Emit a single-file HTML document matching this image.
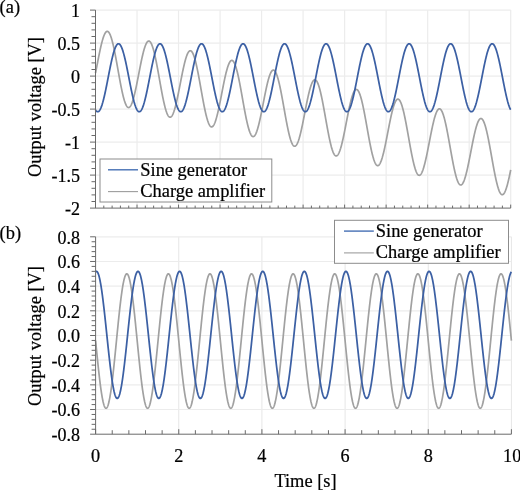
<!DOCTYPE html>
<html><head><meta charset="utf-8"><title>Output voltage</title>
<style>html,body{margin:0;padding:0;background:#fff}svg{display:block;filter:blur(0.4px)}text{stroke:#000;stroke-width:0.22px}</style></head>
<body>
<svg width="520" height="490" viewBox="0 0 520 490">
<rect width="520" height="490" fill="#fff"/>
<line x1="137.02" y1="10.10" x2="137.02" y2="208.10" stroke="#ececec" stroke-width="1.2"/>
<line x1="178.54" y1="10.10" x2="178.54" y2="208.10" stroke="#ececec" stroke-width="1.2"/>
<line x1="220.06" y1="10.10" x2="220.06" y2="208.10" stroke="#ececec" stroke-width="1.2"/>
<line x1="261.58" y1="10.10" x2="261.58" y2="208.10" stroke="#ececec" stroke-width="1.2"/>
<line x1="303.10" y1="10.10" x2="303.10" y2="208.10" stroke="#ececec" stroke-width="1.2"/>
<line x1="344.62" y1="10.10" x2="344.62" y2="208.10" stroke="#ececec" stroke-width="1.2"/>
<line x1="386.14" y1="10.10" x2="386.14" y2="208.10" stroke="#ececec" stroke-width="1.2"/>
<line x1="427.66" y1="10.10" x2="427.66" y2="208.10" stroke="#ececec" stroke-width="1.2"/>
<line x1="469.18" y1="10.10" x2="469.18" y2="208.10" stroke="#ececec" stroke-width="1.2"/>
<line x1="510.70" y1="10.10" x2="510.70" y2="208.10" stroke="#ececec" stroke-width="1.2"/>
<line x1="95.50" y1="10.10" x2="510.70" y2="10.10" stroke="#ececec" stroke-width="1.2"/>
<line x1="95.50" y1="43.10" x2="510.70" y2="43.10" stroke="#ececec" stroke-width="1.2"/>
<line x1="95.50" y1="76.10" x2="510.70" y2="76.10" stroke="#ececec" stroke-width="1.2"/>
<line x1="95.50" y1="109.10" x2="510.70" y2="109.10" stroke="#ececec" stroke-width="1.2"/>
<line x1="95.50" y1="142.10" x2="510.70" y2="142.10" stroke="#ececec" stroke-width="1.2"/>
<line x1="95.50" y1="175.10" x2="510.70" y2="175.10" stroke="#ececec" stroke-width="1.2"/>
<path d="M95.50,73.08 L95.71,72.04 L95.92,71.00 L96.12,69.94 L96.33,68.88 L96.54,67.82 L96.75,66.75 L96.95,65.68 L97.16,64.61 L97.37,63.54 L97.58,62.47 L97.78,61.40 L97.99,60.33 L98.20,59.27 L98.41,58.22 L98.61,57.17 L98.82,56.13 L99.03,55.10 L99.24,54.08 L99.44,53.07 L99.65,52.07 L99.86,51.08 L100.07,50.11 L100.27,49.15 L100.48,48.21 L100.69,47.29 L100.90,46.38 L101.11,45.49 L101.31,44.63 L101.52,43.78 L101.73,42.95 L101.94,42.15 L102.14,41.37 L102.35,40.62 L102.56,39.89 L102.77,39.18 L102.97,38.50 L103.18,37.85 L103.39,37.23 L103.60,36.63 L103.80,36.06 L104.01,35.53 L104.22,35.02 L104.43,34.55 L104.63,34.10 L104.84,33.69 L105.05,33.31 L105.26,32.96 L105.46,32.65 L105.67,32.37 L105.88,32.12 L106.09,31.91 L106.30,31.73 L106.50,31.58 L106.71,31.48 L106.92,31.40 L107.13,31.36 L107.33,31.36 L107.54,31.39 L107.75,31.45 L107.96,31.55 L108.16,31.69 L108.37,31.86 L108.58,32.07 L108.79,32.31 L108.99,32.59 L109.20,32.89 L109.41,33.24 L109.62,33.62 L109.82,34.03 L110.03,34.47 L110.24,34.95 L110.45,35.46 L110.65,36.00 L110.86,36.57 L111.07,37.17 L111.28,37.81 L111.49,38.47 L111.69,39.16 L111.90,39.88 L112.11,40.63 L112.32,41.41 L112.52,42.21 L112.73,43.04 L112.94,43.89 L113.15,44.77 L113.35,45.67 L113.56,46.59 L113.77,47.53 L113.98,48.50 L114.18,49.48 L114.39,50.48 L114.60,51.50 L114.81,52.54 L115.01,53.60 L115.22,54.66 L115.43,55.75 L115.64,56.84 L115.84,57.95 L116.05,59.07 L116.26,60.20 L116.47,61.33 L116.68,62.48 L116.88,63.63 L117.09,64.79 L117.30,65.95 L117.51,67.11 L117.71,68.28 L117.92,69.45 L118.13,70.62 L118.34,71.78 L118.54,72.95 L118.75,74.11 L118.96,75.27 L119.17,76.42 L119.37,77.56 L119.58,78.70 L119.79,79.83 L120.00,80.95 L120.20,82.05 L120.41,83.15 L120.62,84.23 L120.83,85.30 L121.03,86.35 L121.24,87.39 L121.45,88.41 L121.66,89.42 L121.87,90.40 L122.07,91.37 L122.28,92.31 L122.49,93.23 L122.70,94.13 L122.90,95.01 L123.11,95.86 L123.32,96.69 L123.53,97.49 L123.73,98.26 L123.94,99.01 L124.15,99.73 L124.36,100.43 L124.56,101.09 L124.77,101.72 L124.98,102.33 L125.19,102.90 L125.39,103.44 L125.60,103.95 L125.81,104.43 L126.02,104.87 L126.22,105.28 L126.43,105.66 L126.64,106.00 L126.85,106.31 L127.06,106.59 L127.26,106.83 L127.47,107.03 L127.68,107.21 L127.89,107.34 L128.09,107.44 L128.30,107.51 L128.51,107.54 L128.72,107.54 L128.92,107.50 L129.13,107.42 L129.34,107.31 L129.55,107.17 L129.75,106.99 L129.96,106.78 L130.17,106.53 L130.38,106.25 L130.58,105.93 L130.79,105.59 L131.00,105.21 L131.21,104.79 L131.41,104.35 L131.62,103.88 L131.83,103.37 L132.04,102.83 L132.25,102.27 L132.45,101.67 L132.66,101.05 L132.87,100.40 L133.08,99.72 L133.28,99.01 L133.49,98.28 L133.70,97.52 L133.91,96.75 L134.11,95.94 L134.32,95.12 L134.53,94.27 L134.74,93.40 L134.94,92.51 L135.15,91.61 L135.36,90.68 L135.57,89.74 L135.77,88.79 L135.98,87.81 L136.19,86.83 L136.40,85.83 L136.60,84.82 L136.81,83.80 L137.02,82.77 L137.23,81.73 L137.44,80.68 L137.64,79.62 L137.85,78.56 L138.06,77.50 L138.27,76.43 L138.47,75.36 L138.68,74.29 L138.89,73.22 L139.10,72.15 L139.30,71.08 L139.51,70.02 L139.72,68.96 L139.93,67.90 L140.13,66.85 L140.34,65.81 L140.55,64.78 L140.76,63.76 L140.96,62.75 L141.17,61.75 L141.38,60.76 L141.59,59.79 L141.79,58.84 L142.00,57.89 L142.21,56.97 L142.42,56.06 L142.63,55.18 L142.83,54.31 L143.04,53.46 L143.25,52.64 L143.46,51.83 L143.66,51.05 L143.87,50.30 L144.08,49.57 L144.29,48.86 L144.49,48.18 L144.70,47.53 L144.91,46.91 L145.12,46.31 L145.32,45.75 L145.53,45.21 L145.74,44.70 L145.95,44.23 L146.15,43.78 L146.36,43.37 L146.57,42.99 L146.78,42.64 L146.98,42.33 L147.19,42.05 L147.40,41.80 L147.61,41.59 L147.82,41.41 L148.02,41.27 L148.23,41.16 L148.44,41.08 L148.65,41.04 L148.85,41.04 L149.06,41.07 L149.27,41.14 L149.48,41.24 L149.68,41.37 L149.89,41.54 L150.10,41.75 L150.31,41.99 L150.51,42.27 L150.72,42.58 L150.93,42.92 L151.14,43.30 L151.34,43.71 L151.55,44.15 L151.76,44.63 L151.97,45.14 L152.17,45.68 L152.38,46.25 L152.59,46.86 L152.80,47.49 L153.01,48.15 L153.21,48.84 L153.42,49.57 L153.63,50.31 L153.84,51.09 L154.04,51.89 L154.25,52.72 L154.46,53.57 L154.67,54.45 L154.87,55.35 L155.08,56.27 L155.29,57.21 L155.50,58.18 L155.70,59.16 L155.91,60.17 L156.12,61.19 L156.33,62.22 L156.53,63.28 L156.74,64.35 L156.95,65.43 L157.16,66.53 L157.36,67.63 L157.57,68.75 L157.78,69.88 L157.99,71.02 L158.20,72.16 L158.40,73.31 L158.61,74.47 L158.82,75.63 L159.03,76.80 L159.23,77.96 L159.44,79.13 L159.65,80.30 L159.86,81.47 L160.06,82.63 L160.27,83.79 L160.48,84.95 L160.69,86.10 L160.89,87.24 L161.10,88.38 L161.31,89.51 L161.52,90.63 L161.72,91.74 L161.93,92.83 L162.14,93.91 L162.35,94.98 L162.55,96.04 L162.76,97.07 L162.97,98.10 L163.18,99.10 L163.39,100.08 L163.59,101.05 L163.80,101.99 L164.01,102.91 L164.22,103.81 L164.42,104.69 L164.63,105.54 L164.84,106.37 L165.05,107.17 L165.25,107.95 L165.46,108.70 L165.67,109.42 L165.88,110.11 L166.08,110.77 L166.29,111.40 L166.50,112.01 L166.71,112.58 L166.91,113.12 L167.12,113.63 L167.33,114.11 L167.54,114.55 L167.74,114.96 L167.95,115.34 L168.16,115.68 L168.37,115.99 L168.58,116.27 L168.78,116.51 L168.99,116.72 L169.20,116.89 L169.41,117.02 L169.61,117.13 L169.82,117.19 L170.03,117.22 L170.24,117.22 L170.44,117.18 L170.65,117.10 L170.86,116.99 L171.07,116.85 L171.27,116.67 L171.48,116.46 L171.69,116.21 L171.90,115.93 L172.10,115.62 L172.31,115.27 L172.52,114.89 L172.73,114.48 L172.93,114.03 L173.14,113.56 L173.35,113.05 L173.56,112.51 L173.77,111.95 L173.97,111.35 L174.18,110.73 L174.39,110.08 L174.60,109.40 L174.80,108.69 L175.01,107.96 L175.22,107.21 L175.43,106.43 L175.63,105.62 L175.84,104.80 L176.05,103.95 L176.26,103.08 L176.46,102.20 L176.67,101.29 L176.88,100.37 L177.09,99.43 L177.29,98.47 L177.50,97.50 L177.71,96.51 L177.92,95.51 L178.12,94.50 L178.33,93.48 L178.54,92.45 L178.75,91.41 L178.96,90.36 L179.16,89.30 L179.37,88.24 L179.58,87.18 L179.79,86.11 L179.99,85.04 L180.20,83.97 L180.41,82.90 L180.62,81.83 L180.82,80.76 L181.03,79.70 L181.24,78.64 L181.45,77.58 L181.65,76.54 L181.86,75.50 L182.07,74.46 L182.28,73.44 L182.48,72.43 L182.69,71.43 L182.90,70.45 L183.11,69.47 L183.31,68.52 L183.52,67.58 L183.73,66.65 L183.94,65.75 L184.15,64.86 L184.35,63.99 L184.56,63.14 L184.77,62.32 L184.98,61.52 L185.18,60.74 L185.39,59.98 L185.60,59.25 L185.81,58.54 L186.01,57.87 L186.22,57.21 L186.43,56.59 L186.64,56.00 L186.84,55.43 L187.05,54.89 L187.26,54.39 L187.47,53.91 L187.67,53.47 L187.88,53.05 L188.09,52.67 L188.30,52.33 L188.50,52.01 L188.71,51.73 L188.92,51.48 L189.13,51.27 L189.34,51.09 L189.54,50.95 L189.75,50.84 L189.96,50.77 L190.17,50.73 L190.37,50.72 L190.58,50.75 L190.79,50.82 L191.00,50.92 L191.20,51.06 L191.41,51.23 L191.62,51.43 L191.83,51.67 L192.03,51.95 L192.24,52.26 L192.45,52.60 L192.66,52.98 L192.86,53.39 L193.07,53.84 L193.28,54.31 L193.49,54.82 L193.69,55.36 L193.90,55.94 L194.11,56.54 L194.32,57.17 L194.53,57.83 L194.73,58.53 L194.94,59.25 L195.15,60.00 L195.36,60.77 L195.56,61.57 L195.77,62.40 L195.98,63.25 L196.19,64.13 L196.39,65.03 L196.60,65.95 L196.81,66.90 L197.02,67.86 L197.22,68.84 L197.43,69.85 L197.64,70.87 L197.85,71.91 L198.05,72.96 L198.26,74.03 L198.47,75.11 L198.68,76.21 L198.88,77.32 L199.09,78.43 L199.30,79.56 L199.51,80.70 L199.72,81.84 L199.92,83.00 L200.13,84.15 L200.34,85.31 L200.55,86.48 L200.75,87.64 L200.96,88.81 L201.17,89.98 L201.38,91.15 L201.58,92.31 L201.79,93.47 L202.00,94.63 L202.21,95.78 L202.41,96.93 L202.62,98.06 L202.83,99.19 L203.04,100.31 L203.24,101.42 L203.45,102.51 L203.66,103.60 L203.87,104.67 L204.07,105.72 L204.28,106.76 L204.49,107.78 L204.70,108.78 L204.91,109.77 L205.11,110.73 L205.32,111.67 L205.53,112.60 L205.74,113.50 L205.94,114.37 L206.15,115.22 L206.36,116.05 L206.57,116.85 L206.77,117.63 L206.98,118.38 L207.19,119.10 L207.40,119.79 L207.60,120.45 L207.81,121.09 L208.02,121.69 L208.23,122.26 L208.43,122.80 L208.64,123.31 L208.85,123.79 L209.06,124.23 L209.26,124.64 L209.47,125.02 L209.68,125.37 L209.89,125.68 L210.10,125.95 L210.30,126.19 L210.51,126.40 L210.72,126.57 L210.93,126.71 L211.13,126.81 L211.34,126.87 L211.55,126.90 L211.76,126.90 L211.96,126.86 L212.17,126.79 L212.38,126.68 L212.59,126.53 L212.79,126.35 L213.00,126.14 L213.21,125.89 L213.42,125.61 L213.62,125.30 L213.83,124.95 L214.04,124.57 L214.25,124.16 L214.45,123.71 L214.66,123.24 L214.87,122.73 L215.08,122.20 L215.29,121.63 L215.49,121.03 L215.70,120.41 L215.91,119.76 L216.12,119.08 L216.32,118.38 L216.53,117.64 L216.74,116.89 L216.95,116.11 L217.15,115.31 L217.36,114.48 L217.57,113.63 L217.78,112.77 L217.98,111.88 L218.19,110.97 L218.40,110.05 L218.61,109.11 L218.81,108.15 L219.02,107.18 L219.23,106.19 L219.44,105.19 L219.64,104.18 L219.85,103.16 L220.06,102.13 L220.27,101.09 L220.48,100.04 L220.68,98.99 L220.89,97.93 L221.10,96.86 L221.31,95.79 L221.51,94.72 L221.72,93.65 L221.93,92.58 L222.14,91.51 L222.34,90.45 L222.55,89.38 L222.76,88.32 L222.97,87.27 L223.17,86.22 L223.38,85.18 L223.59,84.15 L223.80,83.12 L224.00,82.11 L224.21,81.11 L224.42,80.13 L224.63,79.16 L224.83,78.20 L225.04,77.26 L225.25,76.33 L225.46,75.43 L225.67,74.54 L225.87,73.67 L226.08,72.83 L226.29,72.00 L226.50,71.20 L226.70,70.42 L226.91,69.66 L227.12,68.93 L227.33,68.23 L227.53,67.55 L227.74,66.90 L227.95,66.27 L228.16,65.68 L228.36,65.11 L228.57,64.57 L228.78,64.07 L228.99,63.59 L229.19,63.15 L229.40,62.74 L229.61,62.36 L229.82,62.01 L230.02,61.69 L230.23,61.41 L230.44,61.17 L230.65,60.95 L230.86,60.78 L231.06,60.63 L231.27,60.52 L231.48,60.45 L231.69,60.41 L231.89,60.40 L232.10,60.43 L232.31,60.50 L232.52,60.60 L232.72,60.74 L232.93,60.91 L233.14,61.12 L233.35,61.36 L233.55,61.63 L233.76,61.94 L233.97,62.29 L234.18,62.66 L234.38,63.07 L234.59,63.52 L234.80,64.00 L235.01,64.50 L235.21,65.05 L235.42,65.62 L235.63,66.22 L235.84,66.85 L236.05,67.52 L236.25,68.21 L236.46,68.93 L236.67,69.68 L236.88,70.45 L237.08,71.26 L237.29,72.08 L237.50,72.94 L237.71,73.81 L237.91,74.71 L238.12,75.63 L238.33,76.58 L238.54,77.54 L238.74,78.53 L238.95,79.53 L239.16,80.55 L239.37,81.59 L239.57,82.64 L239.78,83.71 L239.99,84.79 L240.20,85.89 L240.40,87.00 L240.61,88.12 L240.82,89.24 L241.03,90.38 L241.24,91.53 L241.44,92.68 L241.65,93.83 L241.86,95.00 L242.07,96.16 L242.27,97.33 L242.48,98.49 L242.69,99.66 L242.90,100.83 L243.10,101.99 L243.31,103.16 L243.52,104.31 L243.73,105.46 L243.93,106.61 L244.14,107.75 L244.35,108.87 L244.56,109.99 L244.76,111.10 L244.97,112.20 L245.18,113.28 L245.39,114.35 L245.59,115.40 L245.80,116.44 L246.01,117.46 L246.22,118.46 L246.43,119.45 L246.63,120.41 L246.84,121.36 L247.05,122.28 L247.26,123.18 L247.46,124.05 L247.67,124.91 L247.88,125.73 L248.09,126.54 L248.29,127.31 L248.50,128.06 L248.71,128.78 L248.92,129.47 L249.12,130.14 L249.33,130.77 L249.54,131.37 L249.75,131.94 L249.95,132.49 L250.16,132.99 L250.37,133.47 L250.58,133.92 L250.78,134.33 L250.99,134.70 L251.20,135.05 L251.41,135.36 L251.62,135.63 L251.82,135.87 L252.03,136.08 L252.24,136.25 L252.45,136.39 L252.65,136.49 L252.86,136.56 L253.07,136.59 L253.28,136.58 L253.48,136.54 L253.69,136.47 L253.90,136.36 L254.11,136.21 L254.31,136.04 L254.52,135.82 L254.73,135.58 L254.94,135.30 L255.14,134.98 L255.35,134.63 L255.56,134.25 L255.77,133.84 L255.97,133.40 L256.18,132.92 L256.39,132.42 L256.60,131.88 L256.81,131.31 L257.01,130.72 L257.22,130.09 L257.43,129.44 L257.64,128.76 L257.84,128.06 L258.05,127.33 L258.26,126.57 L258.47,125.79 L258.67,124.99 L258.88,124.16 L259.09,123.32 L259.30,122.45 L259.50,121.56 L259.71,120.66 L259.92,119.73 L260.13,118.79 L260.33,117.83 L260.54,116.86 L260.75,115.88 L260.96,114.88 L261.16,113.87 L261.37,112.84 L261.58,111.81 L261.79,110.77 L262.00,109.72 L262.20,108.67 L262.41,107.61 L262.62,106.54 L262.83,105.48 L263.03,104.41 L263.24,103.34 L263.45,102.27 L263.66,101.20 L263.86,100.13 L264.07,99.06 L264.28,98.00 L264.49,96.95 L264.69,95.90 L264.90,94.86 L265.11,93.83 L265.32,92.81 L265.52,91.80 L265.73,90.80 L265.94,89.81 L266.15,88.84 L266.35,87.88 L266.56,86.94 L266.77,86.02 L266.98,85.11 L267.19,84.22 L267.39,83.36 L267.60,82.51 L267.81,81.68 L268.02,80.88 L268.22,80.10 L268.43,79.35 L268.64,78.61 L268.85,77.91 L269.05,77.23 L269.26,76.58 L269.47,75.96 L269.68,75.36 L269.88,74.79 L270.09,74.26 L270.30,73.75 L270.51,73.28 L270.71,72.83 L270.92,72.42 L271.13,72.04 L271.34,71.69 L271.54,71.38 L271.75,71.10 L271.96,70.85 L272.17,70.64 L272.38,70.46 L272.58,70.31 L272.79,70.20 L273.00,70.13 L273.21,70.09 L273.41,70.09 L273.62,70.12 L273.83,70.18 L274.04,70.28 L274.24,70.42 L274.45,70.59 L274.66,70.80 L274.87,71.04 L275.07,71.31 L275.28,71.62 L275.49,71.97 L275.70,72.35 L275.90,72.76 L276.11,73.20 L276.32,73.68 L276.53,74.19 L276.73,74.73 L276.94,75.30 L277.15,75.90 L277.36,76.54 L277.57,77.20 L277.77,77.89 L277.98,78.61 L278.19,79.36 L278.40,80.14 L278.60,80.94 L278.81,81.77 L279.02,82.62 L279.23,83.49 L279.43,84.39 L279.64,85.32 L279.85,86.26 L280.06,87.22 L280.26,88.21 L280.47,89.21 L280.68,90.23 L280.89,91.27 L281.09,92.32 L281.30,93.39 L281.51,94.48 L281.72,95.57 L281.92,96.68 L282.13,97.80 L282.34,98.93 L282.55,100.06 L282.76,101.21 L282.96,102.36 L283.17,103.52 L283.38,104.68 L283.59,105.84 L283.79,107.01 L284.00,108.18 L284.21,109.35 L284.42,110.51 L284.62,111.68 L284.83,112.84 L285.04,113.99 L285.25,115.15 L285.45,116.29 L285.66,117.43 L285.87,118.56 L286.08,119.67 L286.28,120.78 L286.49,121.88 L286.70,122.96 L286.91,124.03 L287.11,125.08 L287.32,126.12 L287.53,127.14 L287.74,128.15 L287.95,129.13 L288.15,130.09 L288.36,131.04 L288.57,131.96 L288.78,132.86 L288.98,133.74 L289.19,134.59 L289.40,135.42 L289.61,136.22 L289.81,136.99 L290.02,137.74 L290.23,138.46 L290.44,139.16 L290.64,139.82 L290.85,140.45 L291.06,141.05 L291.27,141.63 L291.47,142.17 L291.68,142.68 L291.89,143.15 L292.10,143.60 L292.30,144.01 L292.51,144.39 L292.72,144.73 L292.93,145.04 L293.14,145.32 L293.34,145.56 L293.55,145.76 L293.76,145.93 L293.97,146.07 L294.17,146.17 L294.38,146.24 L294.59,146.27 L294.80,146.26 L295.00,146.22 L295.21,146.15 L295.42,146.04 L295.63,145.90 L295.83,145.72 L296.04,145.51 L296.25,145.26 L296.46,144.98 L296.66,144.66 L296.87,144.32 L297.08,143.94 L297.29,143.52 L297.49,143.08 L297.70,142.60 L297.91,142.10 L298.12,141.56 L298.33,140.99 L298.53,140.40 L298.74,139.78 L298.95,139.12 L299.16,138.45 L299.36,137.74 L299.57,137.01 L299.78,136.25 L299.99,135.47 L300.19,134.67 L300.40,133.85 L300.61,133.00 L300.82,132.13 L301.02,131.24 L301.23,130.34 L301.44,129.41 L301.65,128.47 L301.85,127.52 L302.06,126.54 L302.27,125.56 L302.48,124.56 L302.68,123.55 L302.89,122.53 L303.10,121.49 L303.31,120.45 L303.52,119.41 L303.72,118.35 L303.93,117.29 L304.14,116.23 L304.35,115.16 L304.55,114.09 L304.76,113.02 L304.97,111.95 L305.18,110.88 L305.38,109.81 L305.59,108.75 L305.80,107.69 L306.01,106.63 L306.21,105.58 L306.42,104.54 L306.63,103.51 L306.84,102.49 L307.04,101.48 L307.25,100.48 L307.46,99.49 L307.67,98.52 L307.87,97.56 L308.08,96.62 L308.29,95.70 L308.50,94.79 L308.71,93.91 L308.91,93.04 L309.12,92.19 L309.33,91.37 L309.54,90.56 L309.74,89.78 L309.95,89.03 L310.16,88.30 L310.37,87.59 L310.57,86.91 L310.78,86.26 L310.99,85.64 L311.20,85.04 L311.40,84.48 L311.61,83.94 L311.82,83.43 L312.03,82.96 L312.23,82.51 L312.44,82.10 L312.65,81.72 L312.86,81.37 L313.06,81.06 L313.27,80.78 L313.48,80.53 L313.69,80.32 L313.90,80.14 L314.10,80.00 L314.31,79.89 L314.52,79.81 L314.73,79.77 L314.93,79.77 L315.14,79.80 L315.35,79.86 L315.56,79.97 L315.76,80.10 L315.97,80.27 L316.18,80.48 L316.39,80.72 L316.59,81.00 L316.80,81.31 L317.01,81.65 L317.22,82.03 L317.42,82.44 L317.63,82.88 L317.84,83.36 L318.05,83.87 L318.25,84.41 L318.46,84.98 L318.67,85.58 L318.88,86.22 L319.09,86.88 L319.29,87.57 L319.50,88.29 L319.71,89.04 L319.92,89.82 L320.12,90.62 L320.33,91.45 L320.54,92.30 L320.75,93.18 L320.95,94.08 L321.16,95.00 L321.37,95.94 L321.58,96.91 L321.78,97.89 L321.99,98.89 L322.20,99.92 L322.41,100.95 L322.61,102.01 L322.82,103.08 L323.03,104.16 L323.24,105.25 L323.44,106.36 L323.65,107.48 L323.86,108.61 L324.07,109.75 L324.28,110.89 L324.48,112.04 L324.69,113.20 L324.90,114.36 L325.11,115.52 L325.31,116.69 L325.52,117.86 L325.73,119.03 L325.94,120.19 L326.14,121.36 L326.35,122.52 L326.56,123.68 L326.77,124.83 L326.97,125.97 L327.18,127.11 L327.39,128.24 L327.60,129.36 L327.80,130.46 L328.01,131.56 L328.22,132.64 L328.43,133.71 L328.63,134.77 L328.84,135.80 L329.05,136.82 L329.26,137.83 L329.47,138.81 L329.67,139.78 L329.88,140.72 L330.09,141.64 L330.30,142.54 L330.50,143.42 L330.71,144.27 L330.92,145.10 L331.13,145.90 L331.33,146.68 L331.54,147.42 L331.75,148.15 L331.96,148.84 L332.16,149.50 L332.37,150.13 L332.58,150.74 L332.79,151.31 L332.99,151.85 L333.20,152.36 L333.41,152.84 L333.62,153.28 L333.82,153.69 L334.03,154.07 L334.24,154.41 L334.45,154.72 L334.66,155.00 L334.86,155.24 L335.07,155.45 L335.28,155.62 L335.49,155.75 L335.69,155.85 L335.90,155.92 L336.11,155.95 L336.32,155.95 L336.52,155.91 L336.73,155.83 L336.94,155.72 L337.15,155.58 L337.35,155.40 L337.56,155.19 L337.77,154.94 L337.98,154.66 L338.18,154.35 L338.39,154.00 L338.60,153.62 L338.81,153.21 L339.01,152.76 L339.22,152.29 L339.43,151.78 L339.64,151.24 L339.85,150.68 L340.05,150.08 L340.26,149.46 L340.47,148.81 L340.68,148.13 L340.88,147.42 L341.09,146.69 L341.30,145.94 L341.51,145.16 L341.71,144.35 L341.92,143.53 L342.13,142.68 L342.34,141.81 L342.54,140.93 L342.75,140.02 L342.96,139.10 L343.17,138.15 L343.37,137.20 L343.58,136.23 L343.79,135.24 L344.00,134.24 L344.20,133.23 L344.41,132.21 L344.62,131.18 L344.83,130.14 L345.04,129.09 L345.24,128.03 L345.45,126.97 L345.66,125.91 L345.87,124.84 L346.07,123.77 L346.28,122.70 L346.49,121.63 L346.70,120.56 L346.90,119.49 L347.11,118.43 L347.32,117.37 L347.53,116.31 L347.73,115.26 L347.94,114.22 L348.15,113.19 L348.36,112.17 L348.56,111.16 L348.77,110.16 L348.98,109.18 L349.19,108.20 L349.39,107.25 L349.60,106.31 L349.81,105.38 L350.02,104.48 L350.23,103.59 L350.43,102.72 L350.64,101.87 L350.85,101.05 L351.06,100.24 L351.26,99.47 L351.47,98.71 L351.68,97.98 L351.89,97.27 L352.09,96.59 L352.30,95.94 L352.51,95.32 L352.72,94.72 L352.92,94.16 L353.13,93.62 L353.34,93.11 L353.55,92.64 L353.75,92.20 L353.96,91.78 L354.17,91.40 L354.38,91.06 L354.58,90.74 L354.79,90.46 L355.00,90.21 L355.21,90.00 L355.42,89.82 L355.62,89.68 L355.83,89.57 L356.04,89.49 L356.25,89.45 L356.45,89.45 L356.66,89.48 L356.87,89.55 L357.08,89.65 L357.28,89.78 L357.49,89.96 L357.70,90.16 L357.91,90.40 L358.11,90.68 L358.32,90.99 L358.53,91.33 L358.74,91.71 L358.94,92.12 L359.15,92.56 L359.36,93.04 L359.57,93.55 L359.77,94.09 L359.98,94.66 L360.19,95.27 L360.40,95.90 L360.61,96.56 L360.81,97.26 L361.02,97.98 L361.23,98.72 L361.44,99.50 L361.64,100.30 L361.85,101.13 L362.06,101.98 L362.27,102.86 L362.47,103.76 L362.68,104.68 L362.89,105.62 L363.10,106.59 L363.30,107.57 L363.51,108.58 L363.72,109.60 L363.93,110.64 L364.13,111.69 L364.34,112.76 L364.55,113.84 L364.76,114.94 L364.96,116.04 L365.17,117.16 L365.38,118.29 L365.59,119.43 L365.80,120.57 L366.00,121.72 L366.21,122.88 L366.42,124.04 L366.63,125.21 L366.83,126.37 L367.04,127.54 L367.25,128.71 L367.46,129.88 L367.66,131.04 L367.87,132.20 L368.08,133.36 L368.29,134.51 L368.49,135.66 L368.70,136.79 L368.91,137.92 L369.12,139.04 L369.32,140.15 L369.53,141.24 L369.74,142.33 L369.95,143.39 L370.15,144.45 L370.36,145.49 L370.57,146.51 L370.78,147.51 L370.99,148.49 L371.19,149.46 L371.40,150.40 L371.61,151.32 L371.82,152.22 L372.02,153.10 L372.23,153.95 L372.44,154.78 L372.65,155.58 L372.85,156.36 L373.06,157.11 L373.27,157.83 L373.48,158.52 L373.68,159.18 L373.89,159.82 L374.10,160.42 L374.31,160.99 L374.51,161.53 L374.72,162.04 L374.93,162.52 L375.14,162.96 L375.34,163.37 L375.55,163.75 L375.76,164.10 L375.97,164.40 L376.18,164.68 L376.38,164.92 L376.59,165.13 L376.80,165.30 L377.01,165.43 L377.21,165.54 L377.42,165.60 L377.63,165.63 L377.84,165.63 L378.04,165.59 L378.25,165.51 L378.46,165.41 L378.67,165.26 L378.87,165.08 L379.08,164.87 L379.29,164.62 L379.50,164.34 L379.70,164.03 L379.91,163.68 L380.12,163.30 L380.33,162.89 L380.53,162.44 L380.74,161.97 L380.95,161.46 L381.16,160.93 L381.37,160.36 L381.57,159.76 L381.78,159.14 L381.99,158.49 L382.20,157.81 L382.40,157.10 L382.61,156.37 L382.82,155.62 L383.03,154.84 L383.23,154.04 L383.44,153.21 L383.65,152.36 L383.86,151.50 L384.06,150.61 L384.27,149.70 L384.48,148.78 L384.69,147.84 L384.89,146.88 L385.10,145.91 L385.31,144.92 L385.52,143.92 L385.72,142.91 L385.93,141.89 L386.14,140.86 L386.35,139.82 L386.56,138.77 L386.76,137.72 L386.97,136.66 L387.18,135.59 L387.39,134.52 L387.59,133.45 L387.80,132.38 L388.01,131.31 L388.22,130.24 L388.42,129.17 L388.63,128.11 L388.84,127.05 L389.05,125.99 L389.25,124.95 L389.46,123.91 L389.67,122.88 L389.88,121.85 L390.08,120.84 L390.29,119.84 L390.50,118.86 L390.71,117.89 L390.91,116.93 L391.12,115.99 L391.33,115.06 L391.54,114.16 L391.75,113.27 L391.95,112.40 L392.16,111.56 L392.37,110.73 L392.58,109.93 L392.78,109.15 L392.99,108.39 L393.20,107.66 L393.41,106.96 L393.61,106.28 L393.82,105.63 L394.03,105.00 L394.24,104.41 L394.44,103.84 L394.65,103.30 L394.86,102.80 L395.07,102.32 L395.27,101.88 L395.48,101.47 L395.69,101.09 L395.90,100.74 L396.10,100.42 L396.31,100.14 L396.52,99.90 L396.73,99.68 L396.94,99.50 L397.14,99.36 L397.35,99.25 L397.56,99.18 L397.77,99.14 L397.97,99.13 L398.18,99.16 L398.39,99.23 L398.60,99.33 L398.80,99.47 L399.01,99.64 L399.22,99.84 L399.43,100.08 L399.63,100.36 L399.84,100.67 L400.05,101.01 L400.26,101.39 L400.46,101.80 L400.67,102.25 L400.88,102.72 L401.09,103.23 L401.29,103.77 L401.50,104.35 L401.71,104.95 L401.92,105.58 L402.13,106.25 L402.33,106.94 L402.54,107.66 L402.75,108.41 L402.96,109.18 L403.16,109.98 L403.37,110.81 L403.58,111.66 L403.79,112.54 L403.99,113.44 L404.20,114.36 L404.41,115.31 L404.62,116.27 L404.82,117.26 L405.03,118.26 L405.24,119.28 L405.45,120.32 L405.65,121.37 L405.86,122.44 L406.07,123.52 L406.28,124.62 L406.48,125.73 L406.69,126.84 L406.90,127.97 L407.11,129.11 L407.32,130.26 L407.52,131.41 L407.73,132.56 L407.94,133.72 L408.15,134.89 L408.35,136.06 L408.56,137.22 L408.77,138.39 L408.98,139.56 L409.18,140.72 L409.39,141.88 L409.60,143.04 L409.81,144.19 L410.01,145.34 L410.22,146.47 L410.43,147.60 L410.64,148.72 L410.84,149.83 L411.05,150.92 L411.26,152.01 L411.47,153.08 L411.67,154.13 L411.88,155.17 L412.09,156.19 L412.30,157.19 L412.51,158.18 L412.71,159.14 L412.92,160.08 L413.13,161.01 L413.34,161.91 L413.54,162.78 L413.75,163.64 L413.96,164.46 L414.17,165.26 L414.37,166.04 L414.58,166.79 L414.79,167.51 L415.00,168.20 L415.20,168.86 L415.41,169.50 L415.62,170.10 L415.83,170.67 L416.03,171.21 L416.24,171.72 L416.45,172.20 L416.66,172.64 L416.86,173.06 L417.07,173.43 L417.28,173.78 L417.49,174.09 L417.70,174.36 L417.90,174.60 L418.11,174.81 L418.32,174.98 L418.53,175.12 L418.73,175.22 L418.94,175.28 L419.15,175.32 L419.36,175.31 L419.56,175.27 L419.77,175.20 L419.98,175.09 L420.19,174.94 L420.39,174.76 L420.60,174.55 L420.81,174.30 L421.02,174.02 L421.22,173.71 L421.43,173.36 L421.64,172.98 L421.85,172.57 L422.05,172.13 L422.26,171.65 L422.47,171.14 L422.68,170.61 L422.89,170.04 L423.09,169.45 L423.30,168.82 L423.51,168.17 L423.72,167.49 L423.92,166.79 L424.13,166.06 L424.34,165.30 L424.55,164.52 L424.75,163.72 L424.96,162.89 L425.17,162.05 L425.38,161.18 L425.58,160.29 L425.79,159.38 L426.00,158.46 L426.21,157.52 L426.41,156.56 L426.62,155.59 L426.83,154.60 L427.04,153.60 L427.24,152.59 L427.45,151.57 L427.66,150.54 L427.87,149.50 L428.08,148.45 L428.28,147.40 L428.49,146.34 L428.70,145.27 L428.91,144.21 L429.11,143.14 L429.32,142.06 L429.53,140.99 L429.74,139.92 L429.94,138.86 L430.15,137.79 L430.36,136.73 L430.57,135.68 L430.77,134.63 L430.98,133.59 L431.19,132.56 L431.40,131.54 L431.60,130.52 L431.81,129.53 L432.02,128.54 L432.23,127.57 L432.43,126.61 L432.64,125.67 L432.85,124.75 L433.06,123.84 L433.27,122.95 L433.47,122.08 L433.68,121.24 L433.89,120.41 L434.10,119.61 L434.30,118.83 L434.51,118.07 L434.72,117.34 L434.93,116.64 L435.13,115.96 L435.34,115.31 L435.55,114.68 L435.76,114.09 L435.96,113.52 L436.17,112.99 L436.38,112.48 L436.59,112.00 L436.79,111.56 L437.00,111.15 L437.21,110.77 L437.42,110.42 L437.62,110.11 L437.83,109.82 L438.04,109.58 L438.25,109.36 L438.46,109.19 L438.66,109.04 L438.87,108.93 L439.08,108.86 L439.29,108.82 L439.49,108.81 L439.70,108.85 L439.91,108.91 L440.12,109.01 L440.32,109.15 L440.53,109.32 L440.74,109.53 L440.95,109.77 L441.15,110.04 L441.36,110.35 L441.57,110.70 L441.78,111.07 L441.98,111.48 L442.19,111.93 L442.40,112.41 L442.61,112.92 L442.81,113.46 L443.02,114.03 L443.23,114.63 L443.44,115.26 L443.65,115.93 L443.85,116.62 L444.06,117.34 L444.27,118.09 L444.48,118.86 L444.68,119.67 L444.89,120.49 L445.10,121.35 L445.31,122.22 L445.51,123.12 L445.72,124.05 L445.93,124.99 L446.14,125.95 L446.34,126.94 L446.55,127.94 L446.76,128.96 L446.97,130.00 L447.17,131.05 L447.38,132.12 L447.59,133.21 L447.80,134.30 L448.00,135.41 L448.21,136.53 L448.42,137.66 L448.63,138.79 L448.84,139.94 L449.04,141.09 L449.25,142.25 L449.46,143.41 L449.67,144.57 L449.87,145.74 L450.08,146.91 L450.29,148.07 L450.50,149.24 L450.70,150.41 L450.91,151.57 L451.12,152.72 L451.33,153.87 L451.53,155.02 L451.74,156.16 L451.95,157.28 L452.16,158.40 L452.36,159.51 L452.57,160.61 L452.78,161.69 L452.99,162.76 L453.19,163.81 L453.40,164.85 L453.61,165.87 L453.82,166.87 L454.03,167.86 L454.23,168.82 L454.44,169.77 L454.65,170.69 L454.86,171.59 L455.06,172.47 L455.27,173.32 L455.48,174.15 L455.69,174.95 L455.89,175.72 L456.10,176.47 L456.31,177.19 L456.52,177.88 L456.72,178.55 L456.93,179.18 L457.14,179.78 L457.35,180.36 L457.55,180.90 L457.76,181.41 L457.97,181.88 L458.18,182.33 L458.38,182.74 L458.59,183.12 L458.80,183.46 L459.01,183.77 L459.22,184.04 L459.42,184.29 L459.63,184.49 L459.84,184.66 L460.05,184.80 L460.25,184.90 L460.46,184.97 L460.67,185.00 L460.88,184.99 L461.08,184.95 L461.29,184.88 L461.50,184.77 L461.71,184.63 L461.91,184.45 L462.12,184.23 L462.33,183.99 L462.54,183.71 L462.74,183.39 L462.95,183.04 L463.16,182.66 L463.37,182.25 L463.57,181.81 L463.78,181.33 L463.99,180.83 L464.20,180.29 L464.41,179.72 L464.61,179.13 L464.82,178.50 L465.03,177.85 L465.24,177.17 L465.44,176.47 L465.65,175.74 L465.86,174.98 L466.07,174.20 L466.27,173.40 L466.48,172.57 L466.69,171.73 L466.90,170.86 L467.10,169.97 L467.31,169.07 L467.52,168.14 L467.73,167.20 L467.93,166.24 L468.14,165.27 L468.35,164.29 L468.56,163.29 L468.76,162.28 L468.97,161.25 L469.18,160.22 L469.39,159.18 L469.60,158.13 L469.80,157.08 L470.01,156.02 L470.22,154.96 L470.43,153.89 L470.63,152.82 L470.84,151.75 L471.05,150.68 L471.26,149.61 L471.46,148.54 L471.67,147.47 L471.88,146.41 L472.09,145.36 L472.29,144.31 L472.50,143.27 L472.71,142.24 L472.92,141.22 L473.12,140.21 L473.33,139.21 L473.54,138.22 L473.75,137.25 L473.95,136.29 L474.16,135.35 L474.37,134.43 L474.58,133.52 L474.79,132.63 L474.99,131.77 L475.20,130.92 L475.41,130.09 L475.62,129.29 L475.82,128.51 L476.03,127.76 L476.24,127.03 L476.45,126.32 L476.65,125.64 L476.86,124.99 L477.07,124.37 L477.28,123.77 L477.48,123.20 L477.69,122.67 L477.90,122.16 L478.11,121.69 L478.31,121.24 L478.52,120.83 L478.73,120.45 L478.94,120.10 L479.14,119.79 L479.35,119.51 L479.56,119.26 L479.77,119.05 L479.98,118.87 L480.18,118.72 L480.39,118.62 L480.60,118.54 L480.81,118.50 L481.01,118.50 L481.22,118.53 L481.43,118.59 L481.64,118.69 L481.84,118.83 L482.05,119.00 L482.26,119.21 L482.47,119.45 L482.67,119.72 L482.88,120.03 L483.09,120.38 L483.30,120.76 L483.50,121.17 L483.71,121.61 L483.92,122.09 L484.13,122.60 L484.33,123.14 L484.54,123.71 L484.75,124.31 L484.96,124.95 L485.17,125.61 L485.37,126.30 L485.58,127.02 L485.79,127.77 L486.00,128.55 L486.20,129.35 L486.41,130.18 L486.62,131.03 L486.83,131.91 L487.03,132.81 L487.24,133.73 L487.45,134.67 L487.66,135.64 L487.86,136.62 L488.07,137.62 L488.28,138.64 L488.49,139.68 L488.69,140.74 L488.90,141.80 L489.11,142.89 L489.32,143.98 L489.52,145.09 L489.73,146.21 L489.94,147.34 L490.15,148.47 L490.36,149.62 L490.56,150.77 L490.77,151.93 L490.98,153.09 L491.19,154.25 L491.39,155.42 L491.60,156.59 L491.81,157.76 L492.02,158.92 L492.22,160.09 L492.43,161.25 L492.64,162.41 L492.85,163.56 L493.05,164.70 L493.26,165.84 L493.47,166.97 L493.68,168.09 L493.88,169.19 L494.09,170.29 L494.30,171.37 L494.51,172.44 L494.71,173.49 L494.92,174.53 L495.13,175.55 L495.34,176.56 L495.55,177.54 L495.75,178.51 L495.96,179.45 L496.17,180.37 L496.38,181.27 L496.58,182.15 L496.79,183.00 L497.00,183.83 L497.21,184.63 L497.41,185.40 L497.62,186.15 L497.83,186.87 L498.04,187.57 L498.24,188.23 L498.45,188.86 L498.66,189.47 L498.87,190.04 L499.07,190.58 L499.28,191.09 L499.49,191.57 L499.70,192.01 L499.90,192.42 L500.11,192.80 L500.32,193.14 L500.53,193.45 L500.74,193.73 L500.94,193.97 L501.15,194.17 L501.36,194.35 L501.57,194.48 L501.77,194.58 L501.98,194.65 L502.19,194.68 L502.40,194.68 L502.60,194.64 L502.81,194.56 L503.02,194.45 L503.23,194.31 L503.43,194.13 L503.64,193.92 L503.85,193.67 L504.06,193.39 L504.26,193.07 L504.47,192.73 L504.68,192.35 L504.89,191.93 L505.09,191.49 L505.30,191.01 L505.51,190.51 L505.72,189.97 L505.93,189.41 L506.13,188.81 L506.34,188.19 L506.55,187.53 L506.76,186.86 L506.96,186.15 L507.17,185.42 L507.38,184.66 L507.59,183.88 L507.79,183.08 L508.00,182.26 L508.21,181.41 L508.42,180.54 L508.62,179.65 L508.83,178.75 L509.04,177.82 L509.25,176.88 L509.45,175.93 L509.66,174.95 L509.87,173.97 L510.08,172.97 L510.28,171.96 L510.49,170.94 L510.70,169.91" fill="none" stroke="#a1a1a1" stroke-width="1.7" stroke-linejoin="round"/>
<path d="M95.50,109.80 L95.71,110.14 L95.92,110.45 L96.12,110.72 L96.33,110.97 L96.54,111.18 L96.75,111.35 L96.95,111.50 L97.16,111.61 L97.37,111.69 L97.58,111.73 L97.78,111.74 L97.99,111.72 L98.20,111.66 L98.41,111.57 L98.61,111.44 L98.82,111.29 L99.03,111.10 L99.24,110.87 L99.44,110.62 L99.65,110.33 L99.86,110.01 L100.07,109.66 L100.27,109.27 L100.48,108.86 L100.69,108.41 L100.90,107.94 L101.11,107.43 L101.31,106.90 L101.52,106.33 L101.73,105.74 L101.94,105.12 L102.14,104.48 L102.35,103.80 L102.56,103.10 L102.77,102.38 L102.97,101.63 L103.18,100.86 L103.39,100.07 L103.60,99.25 L103.80,98.41 L104.01,97.56 L104.22,96.68 L104.43,95.78 L104.63,94.87 L104.84,93.94 L105.05,92.99 L105.26,92.03 L105.46,91.05 L105.67,90.06 L105.88,89.06 L106.09,88.05 L106.30,87.03 L106.50,86.00 L106.71,84.96 L106.92,83.91 L107.13,82.86 L107.33,81.80 L107.54,80.74 L107.75,79.67 L107.96,78.60 L108.16,77.54 L108.37,76.47 L108.58,75.40 L108.79,74.34 L108.99,73.28 L109.20,72.22 L109.41,71.17 L109.62,70.13 L109.82,69.09 L110.03,68.06 L110.24,67.04 L110.45,66.04 L110.65,65.04 L110.86,64.06 L111.07,63.08 L111.28,62.13 L111.49,61.19 L111.69,60.26 L111.90,59.36 L112.11,58.47 L112.32,57.60 L112.52,56.75 L112.73,55.92 L112.94,55.11 L113.15,54.33 L113.35,53.56 L113.56,52.83 L113.77,52.11 L113.98,51.42 L114.18,50.76 L114.39,50.13 L114.60,49.52 L114.81,48.94 L115.01,48.39 L115.22,47.86 L115.43,47.37 L115.64,46.90 L115.84,46.47 L116.05,46.07 L116.26,45.70 L116.47,45.36 L116.68,45.05 L116.88,44.78 L117.09,44.53 L117.30,44.32 L117.51,44.15 L117.71,44.00 L117.92,43.89 L118.13,43.81 L118.34,43.77 L118.54,43.76 L118.75,43.78 L118.96,43.84 L119.17,43.93 L119.37,44.06 L119.58,44.21 L119.79,44.40 L120.00,44.63 L120.20,44.88 L120.41,45.17 L120.62,45.49 L120.83,45.84 L121.03,46.23 L121.24,46.64 L121.45,47.09 L121.66,47.56 L121.87,48.07 L122.07,48.60 L122.28,49.17 L122.49,49.76 L122.70,50.38 L122.90,51.02 L123.11,51.70 L123.32,52.40 L123.53,53.12 L123.73,53.87 L123.94,54.64 L124.15,55.43 L124.36,56.25 L124.56,57.09 L124.77,57.94 L124.98,58.82 L125.19,59.72 L125.39,60.63 L125.60,61.56 L125.81,62.51 L126.02,63.47 L126.22,64.45 L126.43,65.44 L126.64,66.44 L126.85,67.45 L127.06,68.47 L127.26,69.50 L127.47,70.54 L127.68,71.59 L127.89,72.64 L128.09,73.70 L128.30,74.76 L128.51,75.83 L128.72,76.90 L128.92,77.96 L129.13,79.03 L129.34,80.10 L129.55,81.16 L129.75,82.22 L129.96,83.28 L130.17,84.33 L130.38,85.37 L130.58,86.41 L130.79,87.44 L131.00,88.46 L131.21,89.46 L131.41,90.46 L131.62,91.44 L131.83,92.42 L132.04,93.37 L132.25,94.31 L132.45,95.24 L132.66,96.14 L132.87,97.03 L133.08,97.90 L133.28,98.75 L133.49,99.58 L133.70,100.39 L133.91,101.17 L134.11,101.94 L134.32,102.67 L134.53,103.39 L134.74,104.08 L134.94,104.74 L135.15,105.37 L135.36,105.98 L135.57,106.56 L135.77,107.11 L135.98,107.64 L136.19,108.13 L136.40,108.60 L136.60,109.03 L136.81,109.43 L137.02,109.80 L137.23,110.14 L137.44,110.45 L137.64,110.72 L137.85,110.97 L138.06,111.18 L138.27,111.35 L138.47,111.50 L138.68,111.61 L138.89,111.69 L139.10,111.73 L139.30,111.74 L139.51,111.72 L139.72,111.66 L139.93,111.57 L140.13,111.44 L140.34,111.29 L140.55,111.10 L140.76,110.87 L140.96,110.62 L141.17,110.33 L141.38,110.01 L141.59,109.66 L141.79,109.27 L142.00,108.86 L142.21,108.41 L142.42,107.94 L142.63,107.43 L142.83,106.90 L143.04,106.33 L143.25,105.74 L143.46,105.12 L143.66,104.48 L143.87,103.80 L144.08,103.10 L144.29,102.38 L144.49,101.63 L144.70,100.86 L144.91,100.07 L145.12,99.25 L145.32,98.41 L145.53,97.56 L145.74,96.68 L145.95,95.78 L146.15,94.87 L146.36,93.94 L146.57,92.99 L146.78,92.03 L146.98,91.05 L147.19,90.06 L147.40,89.06 L147.61,88.05 L147.82,87.03 L148.02,86.00 L148.23,84.96 L148.44,83.91 L148.65,82.86 L148.85,81.80 L149.06,80.74 L149.27,79.67 L149.48,78.60 L149.68,77.54 L149.89,76.47 L150.10,75.40 L150.31,74.34 L150.51,73.28 L150.72,72.22 L150.93,71.17 L151.14,70.13 L151.34,69.09 L151.55,68.06 L151.76,67.04 L151.97,66.04 L152.17,65.04 L152.38,64.06 L152.59,63.08 L152.80,62.13 L153.01,61.19 L153.21,60.26 L153.42,59.36 L153.63,58.47 L153.84,57.60 L154.04,56.75 L154.25,55.92 L154.46,55.11 L154.67,54.33 L154.87,53.56 L155.08,52.83 L155.29,52.11 L155.50,51.42 L155.70,50.76 L155.91,50.13 L156.12,49.52 L156.33,48.94 L156.53,48.39 L156.74,47.86 L156.95,47.37 L157.16,46.90 L157.36,46.47 L157.57,46.07 L157.78,45.70 L157.99,45.36 L158.20,45.05 L158.40,44.78 L158.61,44.53 L158.82,44.32 L159.03,44.15 L159.23,44.00 L159.44,43.89 L159.65,43.81 L159.86,43.77 L160.06,43.76 L160.27,43.78 L160.48,43.84 L160.69,43.93 L160.89,44.06 L161.10,44.21 L161.31,44.40 L161.52,44.63 L161.72,44.88 L161.93,45.17 L162.14,45.49 L162.35,45.84 L162.55,46.23 L162.76,46.64 L162.97,47.09 L163.18,47.56 L163.39,48.07 L163.59,48.60 L163.80,49.17 L164.01,49.76 L164.22,50.38 L164.42,51.02 L164.63,51.70 L164.84,52.40 L165.05,53.12 L165.25,53.87 L165.46,54.64 L165.67,55.43 L165.88,56.25 L166.08,57.09 L166.29,57.94 L166.50,58.82 L166.71,59.72 L166.91,60.63 L167.12,61.56 L167.33,62.51 L167.54,63.47 L167.74,64.45 L167.95,65.44 L168.16,66.44 L168.37,67.45 L168.58,68.47 L168.78,69.50 L168.99,70.54 L169.20,71.59 L169.41,72.64 L169.61,73.70 L169.82,74.76 L170.03,75.83 L170.24,76.90 L170.44,77.96 L170.65,79.03 L170.86,80.10 L171.07,81.16 L171.27,82.22 L171.48,83.28 L171.69,84.33 L171.90,85.37 L172.10,86.41 L172.31,87.44 L172.52,88.46 L172.73,89.46 L172.93,90.46 L173.14,91.44 L173.35,92.42 L173.56,93.37 L173.77,94.31 L173.97,95.24 L174.18,96.14 L174.39,97.03 L174.60,97.90 L174.80,98.75 L175.01,99.58 L175.22,100.39 L175.43,101.17 L175.63,101.94 L175.84,102.67 L176.05,103.39 L176.26,104.08 L176.46,104.74 L176.67,105.37 L176.88,105.98 L177.09,106.56 L177.29,107.11 L177.50,107.64 L177.71,108.13 L177.92,108.60 L178.12,109.03 L178.33,109.43 L178.54,109.80 L178.75,110.14 L178.96,110.45 L179.16,110.72 L179.37,110.97 L179.58,111.18 L179.79,111.35 L179.99,111.50 L180.20,111.61 L180.41,111.69 L180.62,111.73 L180.82,111.74 L181.03,111.72 L181.24,111.66 L181.45,111.57 L181.65,111.44 L181.86,111.29 L182.07,111.10 L182.28,110.87 L182.48,110.62 L182.69,110.33 L182.90,110.01 L183.11,109.66 L183.31,109.27 L183.52,108.86 L183.73,108.41 L183.94,107.94 L184.15,107.43 L184.35,106.90 L184.56,106.33 L184.77,105.74 L184.98,105.12 L185.18,104.48 L185.39,103.80 L185.60,103.10 L185.81,102.38 L186.01,101.63 L186.22,100.86 L186.43,100.07 L186.64,99.25 L186.84,98.41 L187.05,97.56 L187.26,96.68 L187.47,95.78 L187.67,94.87 L187.88,93.94 L188.09,92.99 L188.30,92.03 L188.50,91.05 L188.71,90.06 L188.92,89.06 L189.13,88.05 L189.34,87.03 L189.54,86.00 L189.75,84.96 L189.96,83.91 L190.17,82.86 L190.37,81.80 L190.58,80.74 L190.79,79.67 L191.00,78.60 L191.20,77.54 L191.41,76.47 L191.62,75.40 L191.83,74.34 L192.03,73.28 L192.24,72.22 L192.45,71.17 L192.66,70.13 L192.86,69.09 L193.07,68.06 L193.28,67.04 L193.49,66.04 L193.69,65.04 L193.90,64.06 L194.11,63.08 L194.32,62.13 L194.53,61.19 L194.73,60.26 L194.94,59.36 L195.15,58.47 L195.36,57.60 L195.56,56.75 L195.77,55.92 L195.98,55.11 L196.19,54.33 L196.39,53.56 L196.60,52.83 L196.81,52.11 L197.02,51.42 L197.22,50.76 L197.43,50.13 L197.64,49.52 L197.85,48.94 L198.05,48.39 L198.26,47.86 L198.47,47.37 L198.68,46.90 L198.88,46.47 L199.09,46.07 L199.30,45.70 L199.51,45.36 L199.72,45.05 L199.92,44.78 L200.13,44.53 L200.34,44.32 L200.55,44.15 L200.75,44.00 L200.96,43.89 L201.17,43.81 L201.38,43.77 L201.58,43.76 L201.79,43.78 L202.00,43.84 L202.21,43.93 L202.41,44.06 L202.62,44.21 L202.83,44.40 L203.04,44.63 L203.24,44.88 L203.45,45.17 L203.66,45.49 L203.87,45.84 L204.07,46.23 L204.28,46.64 L204.49,47.09 L204.70,47.56 L204.91,48.07 L205.11,48.60 L205.32,49.17 L205.53,49.76 L205.74,50.38 L205.94,51.02 L206.15,51.70 L206.36,52.40 L206.57,53.12 L206.77,53.87 L206.98,54.64 L207.19,55.43 L207.40,56.25 L207.60,57.09 L207.81,57.94 L208.02,58.82 L208.23,59.72 L208.43,60.63 L208.64,61.56 L208.85,62.51 L209.06,63.47 L209.26,64.45 L209.47,65.44 L209.68,66.44 L209.89,67.45 L210.10,68.47 L210.30,69.50 L210.51,70.54 L210.72,71.59 L210.93,72.64 L211.13,73.70 L211.34,74.76 L211.55,75.83 L211.76,76.90 L211.96,77.96 L212.17,79.03 L212.38,80.10 L212.59,81.16 L212.79,82.22 L213.00,83.28 L213.21,84.33 L213.42,85.37 L213.62,86.41 L213.83,87.44 L214.04,88.46 L214.25,89.46 L214.45,90.46 L214.66,91.44 L214.87,92.42 L215.08,93.37 L215.29,94.31 L215.49,95.24 L215.70,96.14 L215.91,97.03 L216.12,97.90 L216.32,98.75 L216.53,99.58 L216.74,100.39 L216.95,101.17 L217.15,101.94 L217.36,102.67 L217.57,103.39 L217.78,104.08 L217.98,104.74 L218.19,105.37 L218.40,105.98 L218.61,106.56 L218.81,107.11 L219.02,107.64 L219.23,108.13 L219.44,108.60 L219.64,109.03 L219.85,109.43 L220.06,109.80 L220.27,110.14 L220.48,110.45 L220.68,110.72 L220.89,110.97 L221.10,111.18 L221.31,111.35 L221.51,111.50 L221.72,111.61 L221.93,111.69 L222.14,111.73 L222.34,111.74 L222.55,111.72 L222.76,111.66 L222.97,111.57 L223.17,111.44 L223.38,111.29 L223.59,111.10 L223.80,110.87 L224.00,110.62 L224.21,110.33 L224.42,110.01 L224.63,109.66 L224.83,109.27 L225.04,108.86 L225.25,108.41 L225.46,107.94 L225.67,107.43 L225.87,106.90 L226.08,106.33 L226.29,105.74 L226.50,105.12 L226.70,104.48 L226.91,103.80 L227.12,103.10 L227.33,102.38 L227.53,101.63 L227.74,100.86 L227.95,100.07 L228.16,99.25 L228.36,98.41 L228.57,97.56 L228.78,96.68 L228.99,95.78 L229.19,94.87 L229.40,93.94 L229.61,92.99 L229.82,92.03 L230.02,91.05 L230.23,90.06 L230.44,89.06 L230.65,88.05 L230.86,87.03 L231.06,86.00 L231.27,84.96 L231.48,83.91 L231.69,82.86 L231.89,81.80 L232.10,80.74 L232.31,79.67 L232.52,78.60 L232.72,77.54 L232.93,76.47 L233.14,75.40 L233.35,74.34 L233.55,73.28 L233.76,72.22 L233.97,71.17 L234.18,70.13 L234.38,69.09 L234.59,68.06 L234.80,67.04 L235.01,66.04 L235.21,65.04 L235.42,64.06 L235.63,63.08 L235.84,62.13 L236.05,61.19 L236.25,60.26 L236.46,59.36 L236.67,58.47 L236.88,57.60 L237.08,56.75 L237.29,55.92 L237.50,55.11 L237.71,54.33 L237.91,53.56 L238.12,52.83 L238.33,52.11 L238.54,51.42 L238.74,50.76 L238.95,50.13 L239.16,49.52 L239.37,48.94 L239.57,48.39 L239.78,47.86 L239.99,47.37 L240.20,46.90 L240.40,46.47 L240.61,46.07 L240.82,45.70 L241.03,45.36 L241.24,45.05 L241.44,44.78 L241.65,44.53 L241.86,44.32 L242.07,44.15 L242.27,44.00 L242.48,43.89 L242.69,43.81 L242.90,43.77 L243.10,43.76 L243.31,43.78 L243.52,43.84 L243.73,43.93 L243.93,44.06 L244.14,44.21 L244.35,44.40 L244.56,44.63 L244.76,44.88 L244.97,45.17 L245.18,45.49 L245.39,45.84 L245.59,46.23 L245.80,46.64 L246.01,47.09 L246.22,47.56 L246.43,48.07 L246.63,48.60 L246.84,49.17 L247.05,49.76 L247.26,50.38 L247.46,51.02 L247.67,51.70 L247.88,52.40 L248.09,53.12 L248.29,53.87 L248.50,54.64 L248.71,55.43 L248.92,56.25 L249.12,57.09 L249.33,57.94 L249.54,58.82 L249.75,59.72 L249.95,60.63 L250.16,61.56 L250.37,62.51 L250.58,63.47 L250.78,64.45 L250.99,65.44 L251.20,66.44 L251.41,67.45 L251.62,68.47 L251.82,69.50 L252.03,70.54 L252.24,71.59 L252.45,72.64 L252.65,73.70 L252.86,74.76 L253.07,75.83 L253.28,76.90 L253.48,77.96 L253.69,79.03 L253.90,80.10 L254.11,81.16 L254.31,82.22 L254.52,83.28 L254.73,84.33 L254.94,85.37 L255.14,86.41 L255.35,87.44 L255.56,88.46 L255.77,89.46 L255.97,90.46 L256.18,91.44 L256.39,92.42 L256.60,93.37 L256.81,94.31 L257.01,95.24 L257.22,96.14 L257.43,97.03 L257.64,97.90 L257.84,98.75 L258.05,99.58 L258.26,100.39 L258.47,101.17 L258.67,101.94 L258.88,102.67 L259.09,103.39 L259.30,104.08 L259.50,104.74 L259.71,105.37 L259.92,105.98 L260.13,106.56 L260.33,107.11 L260.54,107.64 L260.75,108.13 L260.96,108.60 L261.16,109.03 L261.37,109.43 L261.58,109.80 L261.79,110.14 L262.00,110.45 L262.20,110.72 L262.41,110.97 L262.62,111.18 L262.83,111.35 L263.03,111.50 L263.24,111.61 L263.45,111.69 L263.66,111.73 L263.86,111.74 L264.07,111.72 L264.28,111.66 L264.49,111.57 L264.69,111.44 L264.90,111.29 L265.11,111.10 L265.32,110.87 L265.52,110.62 L265.73,110.33 L265.94,110.01 L266.15,109.66 L266.35,109.27 L266.56,108.86 L266.77,108.41 L266.98,107.94 L267.19,107.43 L267.39,106.90 L267.60,106.33 L267.81,105.74 L268.02,105.12 L268.22,104.48 L268.43,103.80 L268.64,103.10 L268.85,102.38 L269.05,101.63 L269.26,100.86 L269.47,100.07 L269.68,99.25 L269.88,98.41 L270.09,97.56 L270.30,96.68 L270.51,95.78 L270.71,94.87 L270.92,93.94 L271.13,92.99 L271.34,92.03 L271.54,91.05 L271.75,90.06 L271.96,89.06 L272.17,88.05 L272.38,87.03 L272.58,86.00 L272.79,84.96 L273.00,83.91 L273.21,82.86 L273.41,81.80 L273.62,80.74 L273.83,79.67 L274.04,78.60 L274.24,77.54 L274.45,76.47 L274.66,75.40 L274.87,74.34 L275.07,73.28 L275.28,72.22 L275.49,71.17 L275.70,70.13 L275.90,69.09 L276.11,68.06 L276.32,67.04 L276.53,66.04 L276.73,65.04 L276.94,64.06 L277.15,63.08 L277.36,62.13 L277.57,61.19 L277.77,60.26 L277.98,59.36 L278.19,58.47 L278.40,57.60 L278.60,56.75 L278.81,55.92 L279.02,55.11 L279.23,54.33 L279.43,53.56 L279.64,52.83 L279.85,52.11 L280.06,51.42 L280.26,50.76 L280.47,50.13 L280.68,49.52 L280.89,48.94 L281.09,48.39 L281.30,47.86 L281.51,47.37 L281.72,46.90 L281.92,46.47 L282.13,46.07 L282.34,45.70 L282.55,45.36 L282.76,45.05 L282.96,44.78 L283.17,44.53 L283.38,44.32 L283.59,44.15 L283.79,44.00 L284.00,43.89 L284.21,43.81 L284.42,43.77 L284.62,43.76 L284.83,43.78 L285.04,43.84 L285.25,43.93 L285.45,44.06 L285.66,44.21 L285.87,44.40 L286.08,44.63 L286.28,44.88 L286.49,45.17 L286.70,45.49 L286.91,45.84 L287.11,46.23 L287.32,46.64 L287.53,47.09 L287.74,47.56 L287.95,48.07 L288.15,48.60 L288.36,49.17 L288.57,49.76 L288.78,50.38 L288.98,51.02 L289.19,51.70 L289.40,52.40 L289.61,53.12 L289.81,53.87 L290.02,54.64 L290.23,55.43 L290.44,56.25 L290.64,57.09 L290.85,57.94 L291.06,58.82 L291.27,59.72 L291.47,60.63 L291.68,61.56 L291.89,62.51 L292.10,63.47 L292.30,64.45 L292.51,65.44 L292.72,66.44 L292.93,67.45 L293.14,68.47 L293.34,69.50 L293.55,70.54 L293.76,71.59 L293.97,72.64 L294.17,73.70 L294.38,74.76 L294.59,75.83 L294.80,76.90 L295.00,77.96 L295.21,79.03 L295.42,80.10 L295.63,81.16 L295.83,82.22 L296.04,83.28 L296.25,84.33 L296.46,85.37 L296.66,86.41 L296.87,87.44 L297.08,88.46 L297.29,89.46 L297.49,90.46 L297.70,91.44 L297.91,92.42 L298.12,93.37 L298.33,94.31 L298.53,95.24 L298.74,96.14 L298.95,97.03 L299.16,97.90 L299.36,98.75 L299.57,99.58 L299.78,100.39 L299.99,101.17 L300.19,101.94 L300.40,102.67 L300.61,103.39 L300.82,104.08 L301.02,104.74 L301.23,105.37 L301.44,105.98 L301.65,106.56 L301.85,107.11 L302.06,107.64 L302.27,108.13 L302.48,108.60 L302.68,109.03 L302.89,109.43 L303.10,109.80 L303.31,110.14 L303.52,110.45 L303.72,110.72 L303.93,110.97 L304.14,111.18 L304.35,111.35 L304.55,111.50 L304.76,111.61 L304.97,111.69 L305.18,111.73 L305.38,111.74 L305.59,111.72 L305.80,111.66 L306.01,111.57 L306.21,111.44 L306.42,111.29 L306.63,111.10 L306.84,110.87 L307.04,110.62 L307.25,110.33 L307.46,110.01 L307.67,109.66 L307.87,109.27 L308.08,108.86 L308.29,108.41 L308.50,107.94 L308.71,107.43 L308.91,106.90 L309.12,106.33 L309.33,105.74 L309.54,105.12 L309.74,104.48 L309.95,103.80 L310.16,103.10 L310.37,102.38 L310.57,101.63 L310.78,100.86 L310.99,100.07 L311.20,99.25 L311.40,98.41 L311.61,97.56 L311.82,96.68 L312.03,95.78 L312.23,94.87 L312.44,93.94 L312.65,92.99 L312.86,92.03 L313.06,91.05 L313.27,90.06 L313.48,89.06 L313.69,88.05 L313.90,87.03 L314.10,86.00 L314.31,84.96 L314.52,83.91 L314.73,82.86 L314.93,81.80 L315.14,80.74 L315.35,79.67 L315.56,78.60 L315.76,77.54 L315.97,76.47 L316.18,75.40 L316.39,74.34 L316.59,73.28 L316.80,72.22 L317.01,71.17 L317.22,70.13 L317.42,69.09 L317.63,68.06 L317.84,67.04 L318.05,66.04 L318.25,65.04 L318.46,64.06 L318.67,63.08 L318.88,62.13 L319.09,61.19 L319.29,60.26 L319.50,59.36 L319.71,58.47 L319.92,57.60 L320.12,56.75 L320.33,55.92 L320.54,55.11 L320.75,54.33 L320.95,53.56 L321.16,52.83 L321.37,52.11 L321.58,51.42 L321.78,50.76 L321.99,50.13 L322.20,49.52 L322.41,48.94 L322.61,48.39 L322.82,47.86 L323.03,47.37 L323.24,46.90 L323.44,46.47 L323.65,46.07 L323.86,45.70 L324.07,45.36 L324.28,45.05 L324.48,44.78 L324.69,44.53 L324.90,44.32 L325.11,44.15 L325.31,44.00 L325.52,43.89 L325.73,43.81 L325.94,43.77 L326.14,43.76 L326.35,43.78 L326.56,43.84 L326.77,43.93 L326.97,44.06 L327.18,44.21 L327.39,44.40 L327.60,44.63 L327.80,44.88 L328.01,45.17 L328.22,45.49 L328.43,45.84 L328.63,46.23 L328.84,46.64 L329.05,47.09 L329.26,47.56 L329.47,48.07 L329.67,48.60 L329.88,49.17 L330.09,49.76 L330.30,50.38 L330.50,51.02 L330.71,51.70 L330.92,52.40 L331.13,53.12 L331.33,53.87 L331.54,54.64 L331.75,55.43 L331.96,56.25 L332.16,57.09 L332.37,57.94 L332.58,58.82 L332.79,59.72 L332.99,60.63 L333.20,61.56 L333.41,62.51 L333.62,63.47 L333.82,64.45 L334.03,65.44 L334.24,66.44 L334.45,67.45 L334.66,68.47 L334.86,69.50 L335.07,70.54 L335.28,71.59 L335.49,72.64 L335.69,73.70 L335.90,74.76 L336.11,75.83 L336.32,76.90 L336.52,77.96 L336.73,79.03 L336.94,80.10 L337.15,81.16 L337.35,82.22 L337.56,83.28 L337.77,84.33 L337.98,85.37 L338.18,86.41 L338.39,87.44 L338.60,88.46 L338.81,89.46 L339.01,90.46 L339.22,91.44 L339.43,92.42 L339.64,93.37 L339.85,94.31 L340.05,95.24 L340.26,96.14 L340.47,97.03 L340.68,97.90 L340.88,98.75 L341.09,99.58 L341.30,100.39 L341.51,101.17 L341.71,101.94 L341.92,102.67 L342.13,103.39 L342.34,104.08 L342.54,104.74 L342.75,105.37 L342.96,105.98 L343.17,106.56 L343.37,107.11 L343.58,107.64 L343.79,108.13 L344.00,108.60 L344.20,109.03 L344.41,109.43 L344.62,109.80 L344.83,110.14 L345.04,110.45 L345.24,110.72 L345.45,110.97 L345.66,111.18 L345.87,111.35 L346.07,111.50 L346.28,111.61 L346.49,111.69 L346.70,111.73 L346.90,111.74 L347.11,111.72 L347.32,111.66 L347.53,111.57 L347.73,111.44 L347.94,111.29 L348.15,111.10 L348.36,110.87 L348.56,110.62 L348.77,110.33 L348.98,110.01 L349.19,109.66 L349.39,109.27 L349.60,108.86 L349.81,108.41 L350.02,107.94 L350.23,107.43 L350.43,106.90 L350.64,106.33 L350.85,105.74 L351.06,105.12 L351.26,104.48 L351.47,103.80 L351.68,103.10 L351.89,102.38 L352.09,101.63 L352.30,100.86 L352.51,100.07 L352.72,99.25 L352.92,98.41 L353.13,97.56 L353.34,96.68 L353.55,95.78 L353.75,94.87 L353.96,93.94 L354.17,92.99 L354.38,92.03 L354.58,91.05 L354.79,90.06 L355.00,89.06 L355.21,88.05 L355.42,87.03 L355.62,86.00 L355.83,84.96 L356.04,83.91 L356.25,82.86 L356.45,81.80 L356.66,80.74 L356.87,79.67 L357.08,78.60 L357.28,77.54 L357.49,76.47 L357.70,75.40 L357.91,74.34 L358.11,73.28 L358.32,72.22 L358.53,71.17 L358.74,70.13 L358.94,69.09 L359.15,68.06 L359.36,67.04 L359.57,66.04 L359.77,65.04 L359.98,64.06 L360.19,63.08 L360.40,62.13 L360.61,61.19 L360.81,60.26 L361.02,59.36 L361.23,58.47 L361.44,57.60 L361.64,56.75 L361.85,55.92 L362.06,55.11 L362.27,54.33 L362.47,53.56 L362.68,52.83 L362.89,52.11 L363.10,51.42 L363.30,50.76 L363.51,50.13 L363.72,49.52 L363.93,48.94 L364.13,48.39 L364.34,47.86 L364.55,47.37 L364.76,46.90 L364.96,46.47 L365.17,46.07 L365.38,45.70 L365.59,45.36 L365.80,45.05 L366.00,44.78 L366.21,44.53 L366.42,44.32 L366.63,44.15 L366.83,44.00 L367.04,43.89 L367.25,43.81 L367.46,43.77 L367.66,43.76 L367.87,43.78 L368.08,43.84 L368.29,43.93 L368.49,44.06 L368.70,44.21 L368.91,44.40 L369.12,44.63 L369.32,44.88 L369.53,45.17 L369.74,45.49 L369.95,45.84 L370.15,46.23 L370.36,46.64 L370.57,47.09 L370.78,47.56 L370.99,48.07 L371.19,48.60 L371.40,49.17 L371.61,49.76 L371.82,50.38 L372.02,51.02 L372.23,51.70 L372.44,52.40 L372.65,53.12 L372.85,53.87 L373.06,54.64 L373.27,55.43 L373.48,56.25 L373.68,57.09 L373.89,57.94 L374.10,58.82 L374.31,59.72 L374.51,60.63 L374.72,61.56 L374.93,62.51 L375.14,63.47 L375.34,64.45 L375.55,65.44 L375.76,66.44 L375.97,67.45 L376.18,68.47 L376.38,69.50 L376.59,70.54 L376.80,71.59 L377.01,72.64 L377.21,73.70 L377.42,74.76 L377.63,75.83 L377.84,76.90 L378.04,77.96 L378.25,79.03 L378.46,80.10 L378.67,81.16 L378.87,82.22 L379.08,83.28 L379.29,84.33 L379.50,85.37 L379.70,86.41 L379.91,87.44 L380.12,88.46 L380.33,89.46 L380.53,90.46 L380.74,91.44 L380.95,92.42 L381.16,93.37 L381.37,94.31 L381.57,95.24 L381.78,96.14 L381.99,97.03 L382.20,97.90 L382.40,98.75 L382.61,99.58 L382.82,100.39 L383.03,101.17 L383.23,101.94 L383.44,102.67 L383.65,103.39 L383.86,104.08 L384.06,104.74 L384.27,105.37 L384.48,105.98 L384.69,106.56 L384.89,107.11 L385.10,107.64 L385.31,108.13 L385.52,108.60 L385.72,109.03 L385.93,109.43 L386.14,109.80 L386.35,110.14 L386.56,110.45 L386.76,110.72 L386.97,110.97 L387.18,111.18 L387.39,111.35 L387.59,111.50 L387.80,111.61 L388.01,111.69 L388.22,111.73 L388.42,111.74 L388.63,111.72 L388.84,111.66 L389.05,111.57 L389.25,111.44 L389.46,111.29 L389.67,111.10 L389.88,110.87 L390.08,110.62 L390.29,110.33 L390.50,110.01 L390.71,109.66 L390.91,109.27 L391.12,108.86 L391.33,108.41 L391.54,107.94 L391.75,107.43 L391.95,106.90 L392.16,106.33 L392.37,105.74 L392.58,105.12 L392.78,104.48 L392.99,103.80 L393.20,103.10 L393.41,102.38 L393.61,101.63 L393.82,100.86 L394.03,100.07 L394.24,99.25 L394.44,98.41 L394.65,97.56 L394.86,96.68 L395.07,95.78 L395.27,94.87 L395.48,93.94 L395.69,92.99 L395.90,92.03 L396.10,91.05 L396.31,90.06 L396.52,89.06 L396.73,88.05 L396.94,87.03 L397.14,86.00 L397.35,84.96 L397.56,83.91 L397.77,82.86 L397.97,81.80 L398.18,80.74 L398.39,79.67 L398.60,78.60 L398.80,77.54 L399.01,76.47 L399.22,75.40 L399.43,74.34 L399.63,73.28 L399.84,72.22 L400.05,71.17 L400.26,70.13 L400.46,69.09 L400.67,68.06 L400.88,67.04 L401.09,66.04 L401.29,65.04 L401.50,64.06 L401.71,63.08 L401.92,62.13 L402.13,61.19 L402.33,60.26 L402.54,59.36 L402.75,58.47 L402.96,57.60 L403.16,56.75 L403.37,55.92 L403.58,55.11 L403.79,54.33 L403.99,53.56 L404.20,52.83 L404.41,52.11 L404.62,51.42 L404.82,50.76 L405.03,50.13 L405.24,49.52 L405.45,48.94 L405.65,48.39 L405.86,47.86 L406.07,47.37 L406.28,46.90 L406.48,46.47 L406.69,46.07 L406.90,45.70 L407.11,45.36 L407.32,45.05 L407.52,44.78 L407.73,44.53 L407.94,44.32 L408.15,44.15 L408.35,44.00 L408.56,43.89 L408.77,43.81 L408.98,43.77 L409.18,43.76 L409.39,43.78 L409.60,43.84 L409.81,43.93 L410.01,44.06 L410.22,44.21 L410.43,44.40 L410.64,44.63 L410.84,44.88 L411.05,45.17 L411.26,45.49 L411.47,45.84 L411.67,46.23 L411.88,46.64 L412.09,47.09 L412.30,47.56 L412.51,48.07 L412.71,48.60 L412.92,49.17 L413.13,49.76 L413.34,50.38 L413.54,51.02 L413.75,51.70 L413.96,52.40 L414.17,53.12 L414.37,53.87 L414.58,54.64 L414.79,55.43 L415.00,56.25 L415.20,57.09 L415.41,57.94 L415.62,58.82 L415.83,59.72 L416.03,60.63 L416.24,61.56 L416.45,62.51 L416.66,63.47 L416.86,64.45 L417.07,65.44 L417.28,66.44 L417.49,67.45 L417.70,68.47 L417.90,69.50 L418.11,70.54 L418.32,71.59 L418.53,72.64 L418.73,73.70 L418.94,74.76 L419.15,75.83 L419.36,76.90 L419.56,77.96 L419.77,79.03 L419.98,80.10 L420.19,81.16 L420.39,82.22 L420.60,83.28 L420.81,84.33 L421.02,85.37 L421.22,86.41 L421.43,87.44 L421.64,88.46 L421.85,89.46 L422.05,90.46 L422.26,91.44 L422.47,92.42 L422.68,93.37 L422.89,94.31 L423.09,95.24 L423.30,96.14 L423.51,97.03 L423.72,97.90 L423.92,98.75 L424.13,99.58 L424.34,100.39 L424.55,101.17 L424.75,101.94 L424.96,102.67 L425.17,103.39 L425.38,104.08 L425.58,104.74 L425.79,105.37 L426.00,105.98 L426.21,106.56 L426.41,107.11 L426.62,107.64 L426.83,108.13 L427.04,108.60 L427.24,109.03 L427.45,109.43 L427.66,109.80 L427.87,110.14 L428.08,110.45 L428.28,110.72 L428.49,110.97 L428.70,111.18 L428.91,111.35 L429.11,111.50 L429.32,111.61 L429.53,111.69 L429.74,111.73 L429.94,111.74 L430.15,111.72 L430.36,111.66 L430.57,111.57 L430.77,111.44 L430.98,111.29 L431.19,111.10 L431.40,110.87 L431.60,110.62 L431.81,110.33 L432.02,110.01 L432.23,109.66 L432.43,109.27 L432.64,108.86 L432.85,108.41 L433.06,107.94 L433.27,107.43 L433.47,106.90 L433.68,106.33 L433.89,105.74 L434.10,105.12 L434.30,104.48 L434.51,103.80 L434.72,103.10 L434.93,102.38 L435.13,101.63 L435.34,100.86 L435.55,100.07 L435.76,99.25 L435.96,98.41 L436.17,97.56 L436.38,96.68 L436.59,95.78 L436.79,94.87 L437.00,93.94 L437.21,92.99 L437.42,92.03 L437.62,91.05 L437.83,90.06 L438.04,89.06 L438.25,88.05 L438.46,87.03 L438.66,86.00 L438.87,84.96 L439.08,83.91 L439.29,82.86 L439.49,81.80 L439.70,80.74 L439.91,79.67 L440.12,78.60 L440.32,77.54 L440.53,76.47 L440.74,75.40 L440.95,74.34 L441.15,73.28 L441.36,72.22 L441.57,71.17 L441.78,70.13 L441.98,69.09 L442.19,68.06 L442.40,67.04 L442.61,66.04 L442.81,65.04 L443.02,64.06 L443.23,63.08 L443.44,62.13 L443.65,61.19 L443.85,60.26 L444.06,59.36 L444.27,58.47 L444.48,57.60 L444.68,56.75 L444.89,55.92 L445.10,55.11 L445.31,54.33 L445.51,53.56 L445.72,52.83 L445.93,52.11 L446.14,51.42 L446.34,50.76 L446.55,50.13 L446.76,49.52 L446.97,48.94 L447.17,48.39 L447.38,47.86 L447.59,47.37 L447.80,46.90 L448.00,46.47 L448.21,46.07 L448.42,45.70 L448.63,45.36 L448.84,45.05 L449.04,44.78 L449.25,44.53 L449.46,44.32 L449.67,44.15 L449.87,44.00 L450.08,43.89 L450.29,43.81 L450.50,43.77 L450.70,43.76 L450.91,43.78 L451.12,43.84 L451.33,43.93 L451.53,44.06 L451.74,44.21 L451.95,44.40 L452.16,44.63 L452.36,44.88 L452.57,45.17 L452.78,45.49 L452.99,45.84 L453.19,46.23 L453.40,46.64 L453.61,47.09 L453.82,47.56 L454.03,48.07 L454.23,48.60 L454.44,49.17 L454.65,49.76 L454.86,50.38 L455.06,51.02 L455.27,51.70 L455.48,52.40 L455.69,53.12 L455.89,53.87 L456.10,54.64 L456.31,55.43 L456.52,56.25 L456.72,57.09 L456.93,57.94 L457.14,58.82 L457.35,59.72 L457.55,60.63 L457.76,61.56 L457.97,62.51 L458.18,63.47 L458.38,64.45 L458.59,65.44 L458.80,66.44 L459.01,67.45 L459.22,68.47 L459.42,69.50 L459.63,70.54 L459.84,71.59 L460.05,72.64 L460.25,73.70 L460.46,74.76 L460.67,75.83 L460.88,76.90 L461.08,77.96 L461.29,79.03 L461.50,80.10 L461.71,81.16 L461.91,82.22 L462.12,83.28 L462.33,84.33 L462.54,85.37 L462.74,86.41 L462.95,87.44 L463.16,88.46 L463.37,89.46 L463.57,90.46 L463.78,91.44 L463.99,92.42 L464.20,93.37 L464.41,94.31 L464.61,95.24 L464.82,96.14 L465.03,97.03 L465.24,97.90 L465.44,98.75 L465.65,99.58 L465.86,100.39 L466.07,101.17 L466.27,101.94 L466.48,102.67 L466.69,103.39 L466.90,104.08 L467.10,104.74 L467.31,105.37 L467.52,105.98 L467.73,106.56 L467.93,107.11 L468.14,107.64 L468.35,108.13 L468.56,108.60 L468.76,109.03 L468.97,109.43 L469.18,109.80 L469.39,110.14 L469.60,110.45 L469.80,110.72 L470.01,110.97 L470.22,111.18 L470.43,111.35 L470.63,111.50 L470.84,111.61 L471.05,111.69 L471.26,111.73 L471.46,111.74 L471.67,111.72 L471.88,111.66 L472.09,111.57 L472.29,111.44 L472.50,111.29 L472.71,111.10 L472.92,110.87 L473.12,110.62 L473.33,110.33 L473.54,110.01 L473.75,109.66 L473.95,109.27 L474.16,108.86 L474.37,108.41 L474.58,107.94 L474.79,107.43 L474.99,106.90 L475.20,106.33 L475.41,105.74 L475.62,105.12 L475.82,104.48 L476.03,103.80 L476.24,103.10 L476.45,102.38 L476.65,101.63 L476.86,100.86 L477.07,100.07 L477.28,99.25 L477.48,98.41 L477.69,97.56 L477.90,96.68 L478.11,95.78 L478.31,94.87 L478.52,93.94 L478.73,92.99 L478.94,92.03 L479.14,91.05 L479.35,90.06 L479.56,89.06 L479.77,88.05 L479.98,87.03 L480.18,86.00 L480.39,84.96 L480.60,83.91 L480.81,82.86 L481.01,81.80 L481.22,80.74 L481.43,79.67 L481.64,78.60 L481.84,77.54 L482.05,76.47 L482.26,75.40 L482.47,74.34 L482.67,73.28 L482.88,72.22 L483.09,71.17 L483.30,70.13 L483.50,69.09 L483.71,68.06 L483.92,67.04 L484.13,66.04 L484.33,65.04 L484.54,64.06 L484.75,63.08 L484.96,62.13 L485.17,61.19 L485.37,60.26 L485.58,59.36 L485.79,58.47 L486.00,57.60 L486.20,56.75 L486.41,55.92 L486.62,55.11 L486.83,54.33 L487.03,53.56 L487.24,52.83 L487.45,52.11 L487.66,51.42 L487.86,50.76 L488.07,50.13 L488.28,49.52 L488.49,48.94 L488.69,48.39 L488.90,47.86 L489.11,47.37 L489.32,46.90 L489.52,46.47 L489.73,46.07 L489.94,45.70 L490.15,45.36 L490.36,45.05 L490.56,44.78 L490.77,44.53 L490.98,44.32 L491.19,44.15 L491.39,44.00 L491.60,43.89 L491.81,43.81 L492.02,43.77 L492.22,43.76 L492.43,43.78 L492.64,43.84 L492.85,43.93 L493.05,44.06 L493.26,44.21 L493.47,44.40 L493.68,44.63 L493.88,44.88 L494.09,45.17 L494.30,45.49 L494.51,45.84 L494.71,46.23 L494.92,46.64 L495.13,47.09 L495.34,47.56 L495.55,48.07 L495.75,48.60 L495.96,49.17 L496.17,49.76 L496.38,50.38 L496.58,51.02 L496.79,51.70 L497.00,52.40 L497.21,53.12 L497.41,53.87 L497.62,54.64 L497.83,55.43 L498.04,56.25 L498.24,57.09 L498.45,57.94 L498.66,58.82 L498.87,59.72 L499.07,60.63 L499.28,61.56 L499.49,62.51 L499.70,63.47 L499.90,64.45 L500.11,65.44 L500.32,66.44 L500.53,67.45 L500.74,68.47 L500.94,69.50 L501.15,70.54 L501.36,71.59 L501.57,72.64 L501.77,73.70 L501.98,74.76 L502.19,75.83 L502.40,76.90 L502.60,77.96 L502.81,79.03 L503.02,80.10 L503.23,81.16 L503.43,82.22 L503.64,83.28 L503.85,84.33 L504.06,85.37 L504.26,86.41 L504.47,87.44 L504.68,88.46 L504.89,89.46 L505.09,90.46 L505.30,91.44 L505.51,92.42 L505.72,93.37 L505.93,94.31 L506.13,95.24 L506.34,96.14 L506.55,97.03 L506.76,97.90 L506.96,98.75 L507.17,99.58 L507.38,100.39 L507.59,101.17 L507.79,101.94 L508.00,102.67 L508.21,103.39 L508.42,104.08 L508.62,104.74 L508.83,105.37 L509.04,105.98 L509.25,106.56 L509.45,107.11 L509.66,107.64 L509.87,108.13 L510.08,108.60 L510.28,109.03 L510.49,109.43 L510.70,109.80" fill="none" stroke="#3c60a4" stroke-width="1.75" stroke-linejoin="round"/>
<line x1="95.50" y1="10.10" x2="95.50" y2="208.10" stroke="#6a6a6a" stroke-width="1"/>
<line x1="95.50" y1="208.10" x2="510.70" y2="208.10" stroke="#6a6a6a" stroke-width="1"/>
<line x1="90.00" y1="10.10" x2="95.50" y2="10.10" stroke="#6a6a6a" stroke-width="1"/>
<line x1="91.50" y1="16.70" x2="95.50" y2="16.70" stroke="#6a6a6a" stroke-width="1"/>
<line x1="91.50" y1="23.30" x2="95.50" y2="23.30" stroke="#6a6a6a" stroke-width="1"/>
<line x1="91.50" y1="29.90" x2="95.50" y2="29.90" stroke="#6a6a6a" stroke-width="1"/>
<line x1="91.50" y1="36.50" x2="95.50" y2="36.50" stroke="#6a6a6a" stroke-width="1"/>
<line x1="90.00" y1="43.10" x2="95.50" y2="43.10" stroke="#6a6a6a" stroke-width="1"/>
<line x1="91.50" y1="49.70" x2="95.50" y2="49.70" stroke="#6a6a6a" stroke-width="1"/>
<line x1="91.50" y1="56.30" x2="95.50" y2="56.30" stroke="#6a6a6a" stroke-width="1"/>
<line x1="91.50" y1="62.90" x2="95.50" y2="62.90" stroke="#6a6a6a" stroke-width="1"/>
<line x1="91.50" y1="69.50" x2="95.50" y2="69.50" stroke="#6a6a6a" stroke-width="1"/>
<line x1="90.00" y1="76.10" x2="95.50" y2="76.10" stroke="#6a6a6a" stroke-width="1"/>
<line x1="91.50" y1="82.70" x2="95.50" y2="82.70" stroke="#6a6a6a" stroke-width="1"/>
<line x1="91.50" y1="89.30" x2="95.50" y2="89.30" stroke="#6a6a6a" stroke-width="1"/>
<line x1="91.50" y1="95.90" x2="95.50" y2="95.90" stroke="#6a6a6a" stroke-width="1"/>
<line x1="91.50" y1="102.50" x2="95.50" y2="102.50" stroke="#6a6a6a" stroke-width="1"/>
<line x1="90.00" y1="109.10" x2="95.50" y2="109.10" stroke="#6a6a6a" stroke-width="1"/>
<line x1="91.50" y1="115.70" x2="95.50" y2="115.70" stroke="#6a6a6a" stroke-width="1"/>
<line x1="91.50" y1="122.30" x2="95.50" y2="122.30" stroke="#6a6a6a" stroke-width="1"/>
<line x1="91.50" y1="128.90" x2="95.50" y2="128.90" stroke="#6a6a6a" stroke-width="1"/>
<line x1="91.50" y1="135.50" x2="95.50" y2="135.50" stroke="#6a6a6a" stroke-width="1"/>
<line x1="90.00" y1="142.10" x2="95.50" y2="142.10" stroke="#6a6a6a" stroke-width="1"/>
<line x1="91.50" y1="148.70" x2="95.50" y2="148.70" stroke="#6a6a6a" stroke-width="1"/>
<line x1="91.50" y1="155.30" x2="95.50" y2="155.30" stroke="#6a6a6a" stroke-width="1"/>
<line x1="91.50" y1="161.90" x2="95.50" y2="161.90" stroke="#6a6a6a" stroke-width="1"/>
<line x1="91.50" y1="168.50" x2="95.50" y2="168.50" stroke="#6a6a6a" stroke-width="1"/>
<line x1="90.00" y1="175.10" x2="95.50" y2="175.10" stroke="#6a6a6a" stroke-width="1"/>
<line x1="91.50" y1="181.70" x2="95.50" y2="181.70" stroke="#6a6a6a" stroke-width="1"/>
<line x1="91.50" y1="188.30" x2="95.50" y2="188.30" stroke="#6a6a6a" stroke-width="1"/>
<line x1="91.50" y1="194.90" x2="95.50" y2="194.90" stroke="#6a6a6a" stroke-width="1"/>
<line x1="91.50" y1="201.50" x2="95.50" y2="201.50" stroke="#6a6a6a" stroke-width="1"/>
<line x1="90.00" y1="208.10" x2="95.50" y2="208.10" stroke="#6a6a6a" stroke-width="1"/>
<line x1="95.50" y1="204.60" x2="95.50" y2="208.10" stroke="#6a6a6a" stroke-width="1"/>
<line x1="103.80" y1="205.60" x2="103.80" y2="208.10" stroke="#6a6a6a" stroke-width="1"/>
<line x1="112.11" y1="205.60" x2="112.11" y2="208.10" stroke="#6a6a6a" stroke-width="1"/>
<line x1="120.41" y1="205.60" x2="120.41" y2="208.10" stroke="#6a6a6a" stroke-width="1"/>
<line x1="128.72" y1="205.60" x2="128.72" y2="208.10" stroke="#6a6a6a" stroke-width="1"/>
<line x1="137.02" y1="204.60" x2="137.02" y2="208.10" stroke="#6a6a6a" stroke-width="1"/>
<line x1="145.32" y1="205.60" x2="145.32" y2="208.10" stroke="#6a6a6a" stroke-width="1"/>
<line x1="153.63" y1="205.60" x2="153.63" y2="208.10" stroke="#6a6a6a" stroke-width="1"/>
<line x1="161.93" y1="205.60" x2="161.93" y2="208.10" stroke="#6a6a6a" stroke-width="1"/>
<line x1="170.24" y1="205.60" x2="170.24" y2="208.10" stroke="#6a6a6a" stroke-width="1"/>
<line x1="178.54" y1="204.60" x2="178.54" y2="208.10" stroke="#6a6a6a" stroke-width="1"/>
<line x1="186.84" y1="205.60" x2="186.84" y2="208.10" stroke="#6a6a6a" stroke-width="1"/>
<line x1="195.15" y1="205.60" x2="195.15" y2="208.10" stroke="#6a6a6a" stroke-width="1"/>
<line x1="203.45" y1="205.60" x2="203.45" y2="208.10" stroke="#6a6a6a" stroke-width="1"/>
<line x1="211.76" y1="205.60" x2="211.76" y2="208.10" stroke="#6a6a6a" stroke-width="1"/>
<line x1="220.06" y1="204.60" x2="220.06" y2="208.10" stroke="#6a6a6a" stroke-width="1"/>
<line x1="228.36" y1="205.60" x2="228.36" y2="208.10" stroke="#6a6a6a" stroke-width="1"/>
<line x1="236.67" y1="205.60" x2="236.67" y2="208.10" stroke="#6a6a6a" stroke-width="1"/>
<line x1="244.97" y1="205.60" x2="244.97" y2="208.10" stroke="#6a6a6a" stroke-width="1"/>
<line x1="253.28" y1="205.60" x2="253.28" y2="208.10" stroke="#6a6a6a" stroke-width="1"/>
<line x1="261.58" y1="204.60" x2="261.58" y2="208.10" stroke="#6a6a6a" stroke-width="1"/>
<line x1="269.88" y1="205.60" x2="269.88" y2="208.10" stroke="#6a6a6a" stroke-width="1"/>
<line x1="278.19" y1="205.60" x2="278.19" y2="208.10" stroke="#6a6a6a" stroke-width="1"/>
<line x1="286.49" y1="205.60" x2="286.49" y2="208.10" stroke="#6a6a6a" stroke-width="1"/>
<line x1="294.80" y1="205.60" x2="294.80" y2="208.10" stroke="#6a6a6a" stroke-width="1"/>
<line x1="303.10" y1="204.60" x2="303.10" y2="208.10" stroke="#6a6a6a" stroke-width="1"/>
<line x1="311.40" y1="205.60" x2="311.40" y2="208.10" stroke="#6a6a6a" stroke-width="1"/>
<line x1="319.71" y1="205.60" x2="319.71" y2="208.10" stroke="#6a6a6a" stroke-width="1"/>
<line x1="328.01" y1="205.60" x2="328.01" y2="208.10" stroke="#6a6a6a" stroke-width="1"/>
<line x1="336.32" y1="205.60" x2="336.32" y2="208.10" stroke="#6a6a6a" stroke-width="1"/>
<line x1="344.62" y1="204.60" x2="344.62" y2="208.10" stroke="#6a6a6a" stroke-width="1"/>
<line x1="352.92" y1="205.60" x2="352.92" y2="208.10" stroke="#6a6a6a" stroke-width="1"/>
<line x1="361.23" y1="205.60" x2="361.23" y2="208.10" stroke="#6a6a6a" stroke-width="1"/>
<line x1="369.53" y1="205.60" x2="369.53" y2="208.10" stroke="#6a6a6a" stroke-width="1"/>
<line x1="377.84" y1="205.60" x2="377.84" y2="208.10" stroke="#6a6a6a" stroke-width="1"/>
<line x1="386.14" y1="204.60" x2="386.14" y2="208.10" stroke="#6a6a6a" stroke-width="1"/>
<line x1="394.44" y1="205.60" x2="394.44" y2="208.10" stroke="#6a6a6a" stroke-width="1"/>
<line x1="402.75" y1="205.60" x2="402.75" y2="208.10" stroke="#6a6a6a" stroke-width="1"/>
<line x1="411.05" y1="205.60" x2="411.05" y2="208.10" stroke="#6a6a6a" stroke-width="1"/>
<line x1="419.36" y1="205.60" x2="419.36" y2="208.10" stroke="#6a6a6a" stroke-width="1"/>
<line x1="427.66" y1="204.60" x2="427.66" y2="208.10" stroke="#6a6a6a" stroke-width="1"/>
<line x1="435.96" y1="205.60" x2="435.96" y2="208.10" stroke="#6a6a6a" stroke-width="1"/>
<line x1="444.27" y1="205.60" x2="444.27" y2="208.10" stroke="#6a6a6a" stroke-width="1"/>
<line x1="452.57" y1="205.60" x2="452.57" y2="208.10" stroke="#6a6a6a" stroke-width="1"/>
<line x1="460.88" y1="205.60" x2="460.88" y2="208.10" stroke="#6a6a6a" stroke-width="1"/>
<line x1="469.18" y1="204.60" x2="469.18" y2="208.10" stroke="#6a6a6a" stroke-width="1"/>
<line x1="477.48" y1="205.60" x2="477.48" y2="208.10" stroke="#6a6a6a" stroke-width="1"/>
<line x1="485.79" y1="205.60" x2="485.79" y2="208.10" stroke="#6a6a6a" stroke-width="1"/>
<line x1="494.09" y1="205.60" x2="494.09" y2="208.10" stroke="#6a6a6a" stroke-width="1"/>
<line x1="502.40" y1="205.60" x2="502.40" y2="208.10" stroke="#6a6a6a" stroke-width="1"/>
<line x1="510.70" y1="204.60" x2="510.70" y2="208.10" stroke="#6a6a6a" stroke-width="1"/>
<text x="80.00" y="16.80" font-size="18" text-anchor="end" fill="#000" font-family="Liberation Serif, serif" >1</text>
<text x="80.00" y="49.80" font-size="18" text-anchor="end" fill="#000" font-family="Liberation Serif, serif" >0.5</text>
<text x="80.00" y="82.80" font-size="18" text-anchor="end" fill="#000" font-family="Liberation Serif, serif" >0</text>
<text x="80.00" y="115.80" font-size="18" text-anchor="end" fill="#000" font-family="Liberation Serif, serif" >-0.5</text>
<text x="80.00" y="148.80" font-size="18" text-anchor="end" fill="#000" font-family="Liberation Serif, serif" >-1</text>
<text x="80.00" y="181.80" font-size="18" text-anchor="end" fill="#000" font-family="Liberation Serif, serif" >-1.5</text>
<text x="80.00" y="214.80" font-size="18" text-anchor="end" fill="#000" font-family="Liberation Serif, serif" >-2</text>
<line x1="178.76" y1="236.8" x2="178.76" y2="434.2" stroke="#e6e6e6" stroke-width="1"/>
<line x1="261.92" y1="236.8" x2="261.92" y2="434.2" stroke="#e6e6e6" stroke-width="1"/>
<line x1="345.08" y1="236.8" x2="345.08" y2="434.2" stroke="#e6e6e6" stroke-width="1"/>
<line x1="428.24" y1="236.8" x2="428.24" y2="434.2" stroke="#e6e6e6" stroke-width="1"/>
<line x1="511.40" y1="236.8" x2="511.40" y2="434.2" stroke="#e6e6e6" stroke-width="1"/>
<line x1="95.60" y1="236.80" x2="511.40" y2="236.80" stroke="#ececec" stroke-width="1.2"/>
<line x1="95.60" y1="261.48" x2="511.40" y2="261.48" stroke="#ececec" stroke-width="1.2"/>
<line x1="95.60" y1="286.15" x2="511.40" y2="286.15" stroke="#ececec" stroke-width="1.2"/>
<line x1="95.60" y1="310.83" x2="511.40" y2="310.83" stroke="#ececec" stroke-width="1.2"/>
<line x1="95.60" y1="335.50" x2="511.40" y2="335.50" stroke="#ececec" stroke-width="1.2"/>
<line x1="95.60" y1="360.18" x2="511.40" y2="360.18" stroke="#ececec" stroke-width="1.2"/>
<line x1="95.60" y1="384.85" x2="511.40" y2="384.85" stroke="#ececec" stroke-width="1.2"/>
<line x1="95.60" y1="409.52" x2="511.40" y2="409.52" stroke="#ececec" stroke-width="1.2"/>
<path d="M95.60,340.63 L95.81,342.74 L96.02,344.85 L96.22,346.96 L96.43,349.06 L96.64,351.15 L96.85,353.24 L97.06,355.31 L97.26,357.36 L97.47,359.40 L97.68,361.43 L97.89,363.43 L98.09,365.41 L98.30,367.37 L98.51,369.30 L98.72,371.20 L98.93,373.07 L99.13,374.92 L99.34,376.72 L99.55,378.50 L99.76,380.23 L99.97,381.93 L100.17,383.59 L100.38,385.20 L100.59,386.77 L100.80,388.30 L101.01,389.78 L101.21,391.21 L101.42,392.59 L101.63,393.92 L101.84,395.20 L102.04,396.43 L102.25,397.60 L102.46,398.71 L102.67,399.77 L102.88,400.77 L103.08,401.71 L103.29,402.59 L103.50,403.41 L103.71,404.17 L103.92,404.87 L104.12,405.50 L104.33,406.07 L104.54,406.58 L104.75,407.02 L104.96,407.40 L105.16,407.71 L105.37,407.95 L105.58,408.13 L105.79,408.24 L105.99,408.29 L106.20,408.27 L106.41,408.18 L106.62,408.03 L106.83,407.81 L107.03,407.53 L107.24,407.18 L107.45,406.76 L107.66,406.28 L107.87,405.74 L108.07,405.13 L108.28,404.46 L108.49,403.72 L108.70,402.93 L108.91,402.07 L109.11,401.15 L109.32,400.18 L109.53,399.14 L109.74,398.05 L109.95,396.90 L110.15,395.70 L110.36,394.44 L110.57,393.13 L110.78,391.77 L110.98,390.36 L111.19,388.90 L111.40,387.39 L111.61,385.83 L111.82,384.24 L112.02,382.60 L112.23,380.92 L112.44,379.19 L112.65,377.44 L112.86,375.64 L113.06,373.81 L113.27,371.95 L113.48,370.06 L113.69,368.14 L113.90,366.20 L114.10,364.23 L114.31,362.23 L114.52,360.22 L114.73,358.18 L114.93,356.13 L115.14,354.07 L115.35,351.99 L115.56,349.90 L115.77,347.80 L115.97,345.70 L116.18,343.59 L116.39,341.47 L116.60,339.36 L116.81,337.25 L117.01,335.14 L117.22,333.04 L117.43,330.95 L117.64,328.87 L117.85,326.80 L118.05,324.74 L118.26,322.70 L118.47,320.68 L118.68,318.67 L118.88,316.69 L119.09,314.74 L119.30,312.81 L119.51,310.90 L119.72,309.03 L119.92,307.19 L120.13,305.38 L120.34,303.61 L120.55,301.87 L120.76,300.18 L120.96,298.52 L121.17,296.90 L121.38,295.33 L121.59,293.81 L121.80,292.33 L122.00,290.90 L122.21,289.51 L122.42,288.18 L122.63,286.90 L122.83,285.68 L123.04,284.51 L123.25,283.39 L123.46,282.33 L123.67,281.33 L123.87,280.39 L124.08,279.51 L124.29,278.69 L124.50,277.93 L124.71,277.24 L124.91,276.60 L125.12,276.03 L125.33,275.53 L125.54,275.08 L125.75,274.71 L125.95,274.40 L126.16,274.15 L126.37,273.97 L126.58,273.86 L126.78,273.81 L126.99,273.83 L127.20,273.92 L127.41,274.07 L127.62,274.29 L127.82,274.58 L128.03,274.93 L128.24,275.34 L128.45,275.82 L128.66,276.37 L128.86,276.97 L129.07,277.65 L129.28,278.38 L129.49,279.18 L129.70,280.03 L129.90,280.95 L130.11,281.93 L130.32,282.96 L130.53,284.05 L130.74,285.20 L130.94,286.41 L131.15,287.66 L131.36,288.97 L131.57,290.34 L131.77,291.75 L131.98,293.21 L132.19,294.72 L132.40,296.27 L132.61,297.87 L132.81,299.51 L133.02,301.19 L133.23,302.91 L133.44,304.67 L133.65,306.46 L133.85,308.29 L134.06,310.15 L134.27,312.04 L134.48,313.96 L134.69,315.91 L134.89,317.88 L135.10,319.87 L135.31,321.89 L135.52,323.92 L135.72,325.97 L135.93,328.04 L136.14,330.12 L136.35,332.21 L136.56,334.30 L136.76,336.41 L136.97,338.52 L137.18,340.63 L137.39,342.74 L137.60,344.85 L137.80,346.96 L138.01,349.06 L138.22,351.15 L138.43,353.24 L138.64,355.31 L138.84,357.36 L139.05,359.40 L139.26,361.43 L139.47,363.43 L139.67,365.41 L139.88,367.37 L140.09,369.30 L140.30,371.20 L140.51,373.07 L140.71,374.92 L140.92,376.72 L141.13,378.50 L141.34,380.23 L141.55,381.93 L141.75,383.59 L141.96,385.20 L142.17,386.77 L142.38,388.30 L142.59,389.78 L142.79,391.21 L143.00,392.59 L143.21,393.92 L143.42,395.20 L143.62,396.43 L143.83,397.60 L144.04,398.71 L144.25,399.77 L144.46,400.77 L144.66,401.71 L144.87,402.59 L145.08,403.41 L145.29,404.17 L145.50,404.87 L145.70,405.50 L145.91,406.07 L146.12,406.58 L146.33,407.02 L146.54,407.40 L146.74,407.71 L146.95,407.95 L147.16,408.13 L147.37,408.24 L147.57,408.29 L147.78,408.27 L147.99,408.18 L148.20,408.03 L148.41,407.81 L148.61,407.53 L148.82,407.18 L149.03,406.76 L149.24,406.28 L149.45,405.74 L149.65,405.13 L149.86,404.46 L150.07,403.72 L150.28,402.93 L150.49,402.07 L150.69,401.15 L150.90,400.18 L151.11,399.14 L151.32,398.05 L151.53,396.90 L151.73,395.70 L151.94,394.44 L152.15,393.13 L152.36,391.77 L152.56,390.36 L152.77,388.90 L152.98,387.39 L153.19,385.83 L153.40,384.24 L153.60,382.60 L153.81,380.92 L154.02,379.19 L154.23,377.44 L154.44,375.64 L154.64,373.81 L154.85,371.95 L155.06,370.06 L155.27,368.14 L155.48,366.20 L155.68,364.23 L155.89,362.23 L156.10,360.22 L156.31,358.18 L156.51,356.13 L156.72,354.07 L156.93,351.99 L157.14,349.90 L157.35,347.80 L157.55,345.70 L157.76,343.59 L157.97,341.47 L158.18,339.36 L158.39,337.25 L158.59,335.14 L158.80,333.04 L159.01,330.95 L159.22,328.87 L159.43,326.80 L159.63,324.74 L159.84,322.70 L160.05,320.68 L160.26,318.67 L160.46,316.69 L160.67,314.74 L160.88,312.81 L161.09,310.90 L161.30,309.03 L161.50,307.19 L161.71,305.38 L161.92,303.61 L162.13,301.87 L162.34,300.18 L162.54,298.52 L162.75,296.90 L162.96,295.33 L163.17,293.81 L163.38,292.33 L163.58,290.90 L163.79,289.51 L164.00,288.18 L164.21,286.90 L164.41,285.68 L164.62,284.51 L164.83,283.39 L165.04,282.33 L165.25,281.33 L165.45,280.39 L165.66,279.51 L165.87,278.69 L166.08,277.93 L166.29,277.24 L166.49,276.60 L166.70,276.03 L166.91,275.53 L167.12,275.08 L167.33,274.71 L167.53,274.40 L167.74,274.15 L167.95,273.97 L168.16,273.86 L168.36,273.81 L168.57,273.83 L168.78,273.92 L168.99,274.07 L169.20,274.29 L169.40,274.58 L169.61,274.93 L169.82,275.34 L170.03,275.82 L170.24,276.37 L170.44,276.97 L170.65,277.65 L170.86,278.38 L171.07,279.18 L171.28,280.03 L171.48,280.95 L171.69,281.93 L171.90,282.96 L172.11,284.05 L172.32,285.20 L172.52,286.41 L172.73,287.66 L172.94,288.97 L173.15,290.34 L173.35,291.75 L173.56,293.21 L173.77,294.72 L173.98,296.27 L174.19,297.87 L174.39,299.51 L174.60,301.19 L174.81,302.91 L175.02,304.67 L175.23,306.46 L175.43,308.29 L175.64,310.15 L175.85,312.04 L176.06,313.96 L176.27,315.91 L176.47,317.88 L176.68,319.87 L176.89,321.89 L177.10,323.92 L177.30,325.97 L177.51,328.04 L177.72,330.12 L177.93,332.21 L178.14,334.30 L178.34,336.41 L178.55,338.52 L178.76,340.63 L178.97,342.74 L179.18,344.85 L179.38,346.96 L179.59,349.06 L179.80,351.15 L180.01,353.24 L180.22,355.31 L180.42,357.36 L180.63,359.40 L180.84,361.43 L181.05,363.43 L181.25,365.41 L181.46,367.37 L181.67,369.30 L181.88,371.20 L182.09,373.07 L182.29,374.92 L182.50,376.72 L182.71,378.50 L182.92,380.23 L183.13,381.93 L183.33,383.59 L183.54,385.20 L183.75,386.77 L183.96,388.30 L184.17,389.78 L184.37,391.21 L184.58,392.59 L184.79,393.92 L185.00,395.20 L185.20,396.43 L185.41,397.60 L185.62,398.71 L185.83,399.77 L186.04,400.77 L186.24,401.71 L186.45,402.59 L186.66,403.41 L186.87,404.17 L187.08,404.87 L187.28,405.50 L187.49,406.07 L187.70,406.58 L187.91,407.02 L188.12,407.40 L188.32,407.71 L188.53,407.95 L188.74,408.13 L188.95,408.24 L189.15,408.29 L189.36,408.27 L189.57,408.18 L189.78,408.03 L189.99,407.81 L190.19,407.53 L190.40,407.18 L190.61,406.76 L190.82,406.28 L191.03,405.74 L191.23,405.13 L191.44,404.46 L191.65,403.72 L191.86,402.93 L192.07,402.07 L192.27,401.15 L192.48,400.18 L192.69,399.14 L192.90,398.05 L193.11,396.90 L193.31,395.70 L193.52,394.44 L193.73,393.13 L193.94,391.77 L194.14,390.36 L194.35,388.90 L194.56,387.39 L194.77,385.83 L194.98,384.24 L195.18,382.60 L195.39,380.92 L195.60,379.19 L195.81,377.44 L196.02,375.64 L196.22,373.81 L196.43,371.95 L196.64,370.06 L196.85,368.14 L197.06,366.20 L197.26,364.23 L197.47,362.23 L197.68,360.22 L197.89,358.18 L198.09,356.13 L198.30,354.07 L198.51,351.99 L198.72,349.90 L198.93,347.80 L199.13,345.70 L199.34,343.59 L199.55,341.47 L199.76,339.36 L199.97,337.25 L200.17,335.14 L200.38,333.04 L200.59,330.95 L200.80,328.87 L201.01,326.80 L201.21,324.74 L201.42,322.70 L201.63,320.68 L201.84,318.67 L202.04,316.69 L202.25,314.74 L202.46,312.81 L202.67,310.90 L202.88,309.03 L203.08,307.19 L203.29,305.38 L203.50,303.61 L203.71,301.87 L203.92,300.18 L204.12,298.52 L204.33,296.90 L204.54,295.33 L204.75,293.81 L204.96,292.33 L205.16,290.90 L205.37,289.51 L205.58,288.18 L205.79,286.90 L205.99,285.68 L206.20,284.51 L206.41,283.39 L206.62,282.33 L206.83,281.33 L207.03,280.39 L207.24,279.51 L207.45,278.69 L207.66,277.93 L207.87,277.24 L208.07,276.60 L208.28,276.03 L208.49,275.53 L208.70,275.08 L208.91,274.71 L209.11,274.40 L209.32,274.15 L209.53,273.97 L209.74,273.86 L209.94,273.81 L210.15,273.83 L210.36,273.92 L210.57,274.07 L210.78,274.29 L210.98,274.58 L211.19,274.93 L211.40,275.34 L211.61,275.82 L211.82,276.37 L212.02,276.97 L212.23,277.65 L212.44,278.38 L212.65,279.18 L212.86,280.03 L213.06,280.95 L213.27,281.93 L213.48,282.96 L213.69,284.05 L213.90,285.20 L214.10,286.41 L214.31,287.66 L214.52,288.97 L214.73,290.34 L214.93,291.75 L215.14,293.21 L215.35,294.72 L215.56,296.27 L215.77,297.87 L215.97,299.51 L216.18,301.19 L216.39,302.91 L216.60,304.67 L216.81,306.46 L217.01,308.29 L217.22,310.15 L217.43,312.04 L217.64,313.96 L217.85,315.91 L218.05,317.88 L218.26,319.87 L218.47,321.89 L218.68,323.92 L218.88,325.97 L219.09,328.04 L219.30,330.12 L219.51,332.21 L219.72,334.30 L219.92,336.41 L220.13,338.52 L220.34,340.63 L220.55,342.74 L220.76,344.85 L220.96,346.96 L221.17,349.06 L221.38,351.15 L221.59,353.24 L221.80,355.31 L222.00,357.36 L222.21,359.40 L222.42,361.43 L222.63,363.43 L222.83,365.41 L223.04,367.37 L223.25,369.30 L223.46,371.20 L223.67,373.07 L223.87,374.92 L224.08,376.72 L224.29,378.50 L224.50,380.23 L224.71,381.93 L224.91,383.59 L225.12,385.20 L225.33,386.77 L225.54,388.30 L225.75,389.78 L225.95,391.21 L226.16,392.59 L226.37,393.92 L226.58,395.20 L226.78,396.43 L226.99,397.60 L227.20,398.71 L227.41,399.77 L227.62,400.77 L227.82,401.71 L228.03,402.59 L228.24,403.41 L228.45,404.17 L228.66,404.87 L228.86,405.50 L229.07,406.07 L229.28,406.58 L229.49,407.02 L229.70,407.40 L229.90,407.71 L230.11,407.95 L230.32,408.13 L230.53,408.24 L230.73,408.29 L230.94,408.27 L231.15,408.18 L231.36,408.03 L231.57,407.81 L231.77,407.53 L231.98,407.18 L232.19,406.76 L232.40,406.28 L232.61,405.74 L232.81,405.13 L233.02,404.46 L233.23,403.72 L233.44,402.93 L233.65,402.07 L233.85,401.15 L234.06,400.18 L234.27,399.14 L234.48,398.05 L234.69,396.90 L234.89,395.70 L235.10,394.44 L235.31,393.13 L235.52,391.77 L235.72,390.36 L235.93,388.90 L236.14,387.39 L236.35,385.83 L236.56,384.24 L236.76,382.60 L236.97,380.92 L237.18,379.19 L237.39,377.44 L237.60,375.64 L237.80,373.81 L238.01,371.95 L238.22,370.06 L238.43,368.14 L238.64,366.20 L238.84,364.23 L239.05,362.23 L239.26,360.22 L239.47,358.18 L239.67,356.13 L239.88,354.07 L240.09,351.99 L240.30,349.90 L240.51,347.80 L240.71,345.70 L240.92,343.59 L241.13,341.47 L241.34,339.36 L241.55,337.25 L241.75,335.14 L241.96,333.04 L242.17,330.95 L242.38,328.87 L242.59,326.80 L242.79,324.74 L243.00,322.70 L243.21,320.68 L243.42,318.67 L243.62,316.69 L243.83,314.74 L244.04,312.81 L244.25,310.90 L244.46,309.03 L244.66,307.19 L244.87,305.38 L245.08,303.61 L245.29,301.87 L245.50,300.18 L245.70,298.52 L245.91,296.90 L246.12,295.33 L246.33,293.81 L246.54,292.33 L246.74,290.90 L246.95,289.51 L247.16,288.18 L247.37,286.90 L247.57,285.68 L247.78,284.51 L247.99,283.39 L248.20,282.33 L248.41,281.33 L248.61,280.39 L248.82,279.51 L249.03,278.69 L249.24,277.93 L249.45,277.24 L249.65,276.60 L249.86,276.03 L250.07,275.53 L250.28,275.08 L250.49,274.71 L250.69,274.40 L250.90,274.15 L251.11,273.97 L251.32,273.86 L251.52,273.81 L251.73,273.83 L251.94,273.92 L252.15,274.07 L252.36,274.29 L252.56,274.58 L252.77,274.93 L252.98,275.34 L253.19,275.82 L253.40,276.37 L253.60,276.97 L253.81,277.65 L254.02,278.38 L254.23,279.18 L254.44,280.03 L254.64,280.95 L254.85,281.93 L255.06,282.96 L255.27,284.05 L255.48,285.20 L255.68,286.41 L255.89,287.66 L256.10,288.97 L256.31,290.34 L256.51,291.75 L256.72,293.21 L256.93,294.72 L257.14,296.27 L257.35,297.87 L257.55,299.51 L257.76,301.19 L257.97,302.91 L258.18,304.67 L258.39,306.46 L258.59,308.29 L258.80,310.15 L259.01,312.04 L259.22,313.96 L259.43,315.91 L259.63,317.88 L259.84,319.87 L260.05,321.89 L260.26,323.92 L260.46,325.97 L260.67,328.04 L260.88,330.12 L261.09,332.21 L261.30,334.30 L261.50,336.41 L261.71,338.52 L261.92,340.63 L262.13,342.74 L262.34,344.85 L262.54,346.96 L262.75,349.06 L262.96,351.15 L263.17,353.24 L263.38,355.31 L263.58,357.36 L263.79,359.40 L264.00,361.43 L264.21,363.43 L264.41,365.41 L264.62,367.37 L264.83,369.30 L265.04,371.20 L265.25,373.07 L265.45,374.92 L265.66,376.72 L265.87,378.50 L266.08,380.23 L266.29,381.93 L266.49,383.59 L266.70,385.20 L266.91,386.77 L267.12,388.30 L267.33,389.78 L267.53,391.21 L267.74,392.59 L267.95,393.92 L268.16,395.20 L268.36,396.43 L268.57,397.60 L268.78,398.71 L268.99,399.77 L269.20,400.77 L269.40,401.71 L269.61,402.59 L269.82,403.41 L270.03,404.17 L270.24,404.87 L270.44,405.50 L270.65,406.07 L270.86,406.58 L271.07,407.02 L271.28,407.40 L271.48,407.71 L271.69,407.95 L271.90,408.13 L272.11,408.24 L272.31,408.29 L272.52,408.27 L272.73,408.18 L272.94,408.03 L273.15,407.81 L273.35,407.53 L273.56,407.18 L273.77,406.76 L273.98,406.28 L274.19,405.74 L274.39,405.13 L274.60,404.46 L274.81,403.72 L275.02,402.93 L275.23,402.07 L275.43,401.15 L275.64,400.18 L275.85,399.14 L276.06,398.05 L276.27,396.90 L276.47,395.70 L276.68,394.44 L276.89,393.13 L277.10,391.77 L277.30,390.36 L277.51,388.90 L277.72,387.39 L277.93,385.83 L278.14,384.24 L278.34,382.60 L278.55,380.92 L278.76,379.19 L278.97,377.44 L279.18,375.64 L279.38,373.81 L279.59,371.95 L279.80,370.06 L280.01,368.14 L280.22,366.20 L280.42,364.23 L280.63,362.23 L280.84,360.22 L281.05,358.18 L281.25,356.13 L281.46,354.07 L281.67,351.99 L281.88,349.90 L282.09,347.80 L282.29,345.70 L282.50,343.59 L282.71,341.47 L282.92,339.36 L283.13,337.25 L283.33,335.14 L283.54,333.04 L283.75,330.95 L283.96,328.87 L284.17,326.80 L284.37,324.74 L284.58,322.70 L284.79,320.68 L285.00,318.67 L285.20,316.69 L285.41,314.74 L285.62,312.81 L285.83,310.90 L286.04,309.03 L286.24,307.19 L286.45,305.38 L286.66,303.61 L286.87,301.87 L287.08,300.18 L287.28,298.52 L287.49,296.90 L287.70,295.33 L287.91,293.81 L288.12,292.33 L288.32,290.90 L288.53,289.51 L288.74,288.18 L288.95,286.90 L289.15,285.68 L289.36,284.51 L289.57,283.39 L289.78,282.33 L289.99,281.33 L290.19,280.39 L290.40,279.51 L290.61,278.69 L290.82,277.93 L291.03,277.24 L291.23,276.60 L291.44,276.03 L291.65,275.53 L291.86,275.08 L292.07,274.71 L292.27,274.40 L292.48,274.15 L292.69,273.97 L292.90,273.86 L293.10,273.81 L293.31,273.83 L293.52,273.92 L293.73,274.07 L293.94,274.29 L294.14,274.58 L294.35,274.93 L294.56,275.34 L294.77,275.82 L294.98,276.37 L295.18,276.97 L295.39,277.65 L295.60,278.38 L295.81,279.18 L296.02,280.03 L296.22,280.95 L296.43,281.93 L296.64,282.96 L296.85,284.05 L297.06,285.20 L297.26,286.41 L297.47,287.66 L297.68,288.97 L297.89,290.34 L298.09,291.75 L298.30,293.21 L298.51,294.72 L298.72,296.27 L298.93,297.87 L299.13,299.51 L299.34,301.19 L299.55,302.91 L299.76,304.67 L299.97,306.46 L300.17,308.29 L300.38,310.15 L300.59,312.04 L300.80,313.96 L301.01,315.91 L301.21,317.88 L301.42,319.87 L301.63,321.89 L301.84,323.92 L302.04,325.97 L302.25,328.04 L302.46,330.12 L302.67,332.21 L302.88,334.30 L303.08,336.41 L303.29,338.52 L303.50,340.63 L303.71,342.74 L303.92,344.85 L304.12,346.96 L304.33,349.06 L304.54,351.15 L304.75,353.24 L304.96,355.31 L305.16,357.36 L305.37,359.40 L305.58,361.43 L305.79,363.43 L305.99,365.41 L306.20,367.37 L306.41,369.30 L306.62,371.20 L306.83,373.07 L307.03,374.92 L307.24,376.72 L307.45,378.50 L307.66,380.23 L307.87,381.93 L308.07,383.59 L308.28,385.20 L308.49,386.77 L308.70,388.30 L308.91,389.78 L309.11,391.21 L309.32,392.59 L309.53,393.92 L309.74,395.20 L309.94,396.43 L310.15,397.60 L310.36,398.71 L310.57,399.77 L310.78,400.77 L310.98,401.71 L311.19,402.59 L311.40,403.41 L311.61,404.17 L311.82,404.87 L312.02,405.50 L312.23,406.07 L312.44,406.58 L312.65,407.02 L312.86,407.40 L313.06,407.71 L313.27,407.95 L313.48,408.13 L313.69,408.24 L313.89,408.29 L314.10,408.27 L314.31,408.18 L314.52,408.03 L314.73,407.81 L314.93,407.53 L315.14,407.18 L315.35,406.76 L315.56,406.28 L315.77,405.74 L315.97,405.13 L316.18,404.46 L316.39,403.72 L316.60,402.93 L316.81,402.07 L317.01,401.15 L317.22,400.18 L317.43,399.14 L317.64,398.05 L317.85,396.90 L318.05,395.70 L318.26,394.44 L318.47,393.13 L318.68,391.77 L318.88,390.36 L319.09,388.90 L319.30,387.39 L319.51,385.83 L319.72,384.24 L319.92,382.60 L320.13,380.92 L320.34,379.19 L320.55,377.44 L320.76,375.64 L320.96,373.81 L321.17,371.95 L321.38,370.06 L321.59,368.14 L321.80,366.20 L322.00,364.23 L322.21,362.23 L322.42,360.22 L322.63,358.18 L322.83,356.13 L323.04,354.07 L323.25,351.99 L323.46,349.90 L323.67,347.80 L323.87,345.70 L324.08,343.59 L324.29,341.47 L324.50,339.36 L324.71,337.25 L324.91,335.14 L325.12,333.04 L325.33,330.95 L325.54,328.87 L325.75,326.80 L325.95,324.74 L326.16,322.70 L326.37,320.68 L326.58,318.67 L326.78,316.69 L326.99,314.74 L327.20,312.81 L327.41,310.90 L327.62,309.03 L327.82,307.19 L328.03,305.38 L328.24,303.61 L328.45,301.87 L328.66,300.18 L328.86,298.52 L329.07,296.90 L329.28,295.33 L329.49,293.81 L329.70,292.33 L329.90,290.90 L330.11,289.51 L330.32,288.18 L330.53,286.90 L330.73,285.68 L330.94,284.51 L331.15,283.39 L331.36,282.33 L331.57,281.33 L331.77,280.39 L331.98,279.51 L332.19,278.69 L332.40,277.93 L332.61,277.24 L332.81,276.60 L333.02,276.03 L333.23,275.53 L333.44,275.08 L333.65,274.71 L333.85,274.40 L334.06,274.15 L334.27,273.97 L334.48,273.86 L334.68,273.81 L334.89,273.83 L335.10,273.92 L335.31,274.07 L335.52,274.29 L335.72,274.58 L335.93,274.93 L336.14,275.34 L336.35,275.82 L336.56,276.37 L336.76,276.97 L336.97,277.65 L337.18,278.38 L337.39,279.18 L337.60,280.03 L337.80,280.95 L338.01,281.93 L338.22,282.96 L338.43,284.05 L338.64,285.20 L338.84,286.41 L339.05,287.66 L339.26,288.97 L339.47,290.34 L339.67,291.75 L339.88,293.21 L340.09,294.72 L340.30,296.27 L340.51,297.87 L340.71,299.51 L340.92,301.19 L341.13,302.91 L341.34,304.67 L341.55,306.46 L341.75,308.29 L341.96,310.15 L342.17,312.04 L342.38,313.96 L342.59,315.91 L342.79,317.88 L343.00,319.87 L343.21,321.89 L343.42,323.92 L343.62,325.97 L343.83,328.04 L344.04,330.12 L344.25,332.21 L344.46,334.30 L344.66,336.41 L344.87,338.52 L345.08,340.63 L345.29,342.74 L345.50,344.85 L345.70,346.96 L345.91,349.06 L346.12,351.15 L346.33,353.24 L346.54,355.31 L346.74,357.36 L346.95,359.40 L347.16,361.43 L347.37,363.43 L347.57,365.41 L347.78,367.37 L347.99,369.30 L348.20,371.20 L348.41,373.07 L348.61,374.92 L348.82,376.72 L349.03,378.50 L349.24,380.23 L349.45,381.93 L349.65,383.59 L349.86,385.20 L350.07,386.77 L350.28,388.30 L350.49,389.78 L350.69,391.21 L350.90,392.59 L351.11,393.92 L351.32,395.20 L351.52,396.43 L351.73,397.60 L351.94,398.71 L352.15,399.77 L352.36,400.77 L352.56,401.71 L352.77,402.59 L352.98,403.41 L353.19,404.17 L353.40,404.87 L353.60,405.50 L353.81,406.07 L354.02,406.58 L354.23,407.02 L354.44,407.40 L354.64,407.71 L354.85,407.95 L355.06,408.13 L355.27,408.24 L355.47,408.29 L355.68,408.27 L355.89,408.18 L356.10,408.03 L356.31,407.81 L356.51,407.53 L356.72,407.18 L356.93,406.76 L357.14,406.28 L357.35,405.74 L357.55,405.13 L357.76,404.46 L357.97,403.72 L358.18,402.93 L358.39,402.07 L358.59,401.15 L358.80,400.18 L359.01,399.14 L359.22,398.05 L359.43,396.90 L359.63,395.70 L359.84,394.44 L360.05,393.13 L360.26,391.77 L360.46,390.36 L360.67,388.90 L360.88,387.39 L361.09,385.83 L361.30,384.24 L361.50,382.60 L361.71,380.92 L361.92,379.19 L362.13,377.44 L362.34,375.64 L362.54,373.81 L362.75,371.95 L362.96,370.06 L363.17,368.14 L363.38,366.20 L363.58,364.23 L363.79,362.23 L364.00,360.22 L364.21,358.18 L364.41,356.13 L364.62,354.07 L364.83,351.99 L365.04,349.90 L365.25,347.80 L365.45,345.70 L365.66,343.59 L365.87,341.47 L366.08,339.36 L366.29,337.25 L366.49,335.14 L366.70,333.04 L366.91,330.95 L367.12,328.87 L367.33,326.80 L367.53,324.74 L367.74,322.70 L367.95,320.68 L368.16,318.67 L368.36,316.69 L368.57,314.74 L368.78,312.81 L368.99,310.90 L369.20,309.03 L369.40,307.19 L369.61,305.38 L369.82,303.61 L370.03,301.87 L370.24,300.18 L370.44,298.52 L370.65,296.90 L370.86,295.33 L371.07,293.81 L371.28,292.33 L371.48,290.90 L371.69,289.51 L371.90,288.18 L372.11,286.90 L372.31,285.68 L372.52,284.51 L372.73,283.39 L372.94,282.33 L373.15,281.33 L373.35,280.39 L373.56,279.51 L373.77,278.69 L373.98,277.93 L374.19,277.24 L374.39,276.60 L374.60,276.03 L374.81,275.53 L375.02,275.08 L375.23,274.71 L375.43,274.40 L375.64,274.15 L375.85,273.97 L376.06,273.86 L376.26,273.81 L376.47,273.83 L376.68,273.92 L376.89,274.07 L377.10,274.29 L377.30,274.58 L377.51,274.93 L377.72,275.34 L377.93,275.82 L378.14,276.37 L378.34,276.97 L378.55,277.65 L378.76,278.38 L378.97,279.18 L379.18,280.03 L379.38,280.95 L379.59,281.93 L379.80,282.96 L380.01,284.05 L380.22,285.20 L380.42,286.41 L380.63,287.66 L380.84,288.97 L381.05,290.34 L381.25,291.75 L381.46,293.21 L381.67,294.72 L381.88,296.27 L382.09,297.87 L382.29,299.51 L382.50,301.19 L382.71,302.91 L382.92,304.67 L383.13,306.46 L383.33,308.29 L383.54,310.15 L383.75,312.04 L383.96,313.96 L384.17,315.91 L384.37,317.88 L384.58,319.87 L384.79,321.89 L385.00,323.92 L385.20,325.97 L385.41,328.04 L385.62,330.12 L385.83,332.21 L386.04,334.30 L386.24,336.41 L386.45,338.52 L386.66,340.63 L386.87,342.74 L387.08,344.85 L387.28,346.96 L387.49,349.06 L387.70,351.15 L387.91,353.24 L388.12,355.31 L388.32,357.36 L388.53,359.40 L388.74,361.43 L388.95,363.43 L389.15,365.41 L389.36,367.37 L389.57,369.30 L389.78,371.20 L389.99,373.07 L390.19,374.92 L390.40,376.72 L390.61,378.50 L390.82,380.23 L391.03,381.93 L391.23,383.59 L391.44,385.20 L391.65,386.77 L391.86,388.30 L392.07,389.78 L392.27,391.21 L392.48,392.59 L392.69,393.92 L392.90,395.20 L393.10,396.43 L393.31,397.60 L393.52,398.71 L393.73,399.77 L393.94,400.77 L394.14,401.71 L394.35,402.59 L394.56,403.41 L394.77,404.17 L394.98,404.87 L395.18,405.50 L395.39,406.07 L395.60,406.58 L395.81,407.02 L396.02,407.40 L396.22,407.71 L396.43,407.95 L396.64,408.13 L396.85,408.24 L397.05,408.29 L397.26,408.27 L397.47,408.18 L397.68,408.03 L397.89,407.81 L398.09,407.53 L398.30,407.18 L398.51,406.76 L398.72,406.28 L398.93,405.74 L399.13,405.13 L399.34,404.46 L399.55,403.72 L399.76,402.93 L399.97,402.07 L400.17,401.15 L400.38,400.18 L400.59,399.14 L400.80,398.05 L401.01,396.90 L401.21,395.70 L401.42,394.44 L401.63,393.13 L401.84,391.77 L402.04,390.36 L402.25,388.90 L402.46,387.39 L402.67,385.83 L402.88,384.24 L403.08,382.60 L403.29,380.92 L403.50,379.19 L403.71,377.44 L403.92,375.64 L404.12,373.81 L404.33,371.95 L404.54,370.06 L404.75,368.14 L404.96,366.20 L405.16,364.23 L405.37,362.23 L405.58,360.22 L405.79,358.18 L405.99,356.13 L406.20,354.07 L406.41,351.99 L406.62,349.90 L406.83,347.80 L407.03,345.70 L407.24,343.59 L407.45,341.47 L407.66,339.36 L407.87,337.25 L408.07,335.14 L408.28,333.04 L408.49,330.95 L408.70,328.87 L408.91,326.80 L409.11,324.74 L409.32,322.70 L409.53,320.68 L409.74,318.67 L409.94,316.69 L410.15,314.74 L410.36,312.81 L410.57,310.90 L410.78,309.03 L410.98,307.19 L411.19,305.38 L411.40,303.61 L411.61,301.87 L411.82,300.18 L412.02,298.52 L412.23,296.90 L412.44,295.33 L412.65,293.81 L412.86,292.33 L413.06,290.90 L413.27,289.51 L413.48,288.18 L413.69,286.90 L413.89,285.68 L414.10,284.51 L414.31,283.39 L414.52,282.33 L414.73,281.33 L414.93,280.39 L415.14,279.51 L415.35,278.69 L415.56,277.93 L415.77,277.24 L415.97,276.60 L416.18,276.03 L416.39,275.53 L416.60,275.08 L416.81,274.71 L417.01,274.40 L417.22,274.15 L417.43,273.97 L417.64,273.86 L417.85,273.81 L418.05,273.83 L418.26,273.92 L418.47,274.07 L418.68,274.29 L418.88,274.58 L419.09,274.93 L419.30,275.34 L419.51,275.82 L419.72,276.37 L419.92,276.97 L420.13,277.65 L420.34,278.38 L420.55,279.18 L420.76,280.03 L420.96,280.95 L421.17,281.93 L421.38,282.96 L421.59,284.05 L421.80,285.20 L422.00,286.41 L422.21,287.66 L422.42,288.97 L422.63,290.34 L422.83,291.75 L423.04,293.21 L423.25,294.72 L423.46,296.27 L423.67,297.87 L423.87,299.51 L424.08,301.19 L424.29,302.91 L424.50,304.67 L424.71,306.46 L424.91,308.29 L425.12,310.15 L425.33,312.04 L425.54,313.96 L425.75,315.91 L425.95,317.88 L426.16,319.87 L426.37,321.89 L426.58,323.92 L426.78,325.97 L426.99,328.04 L427.20,330.12 L427.41,332.21 L427.62,334.30 L427.82,336.41 L428.03,338.52 L428.24,340.63 L428.45,342.74 L428.66,344.85 L428.86,346.96 L429.07,349.06 L429.28,351.15 L429.49,353.24 L429.70,355.31 L429.90,357.36 L430.11,359.40 L430.32,361.43 L430.53,363.43 L430.73,365.41 L430.94,367.37 L431.15,369.30 L431.36,371.20 L431.57,373.07 L431.77,374.92 L431.98,376.72 L432.19,378.50 L432.40,380.23 L432.61,381.93 L432.81,383.59 L433.02,385.20 L433.23,386.77 L433.44,388.30 L433.65,389.78 L433.85,391.21 L434.06,392.59 L434.27,393.92 L434.48,395.20 L434.68,396.43 L434.89,397.60 L435.10,398.71 L435.31,399.77 L435.52,400.77 L435.72,401.71 L435.93,402.59 L436.14,403.41 L436.35,404.17 L436.56,404.87 L436.76,405.50 L436.97,406.07 L437.18,406.58 L437.39,407.02 L437.60,407.40 L437.80,407.71 L438.01,407.95 L438.22,408.13 L438.43,408.24 L438.63,408.29 L438.84,408.27 L439.05,408.18 L439.26,408.03 L439.47,407.81 L439.67,407.53 L439.88,407.18 L440.09,406.76 L440.30,406.28 L440.51,405.74 L440.71,405.13 L440.92,404.46 L441.13,403.72 L441.34,402.93 L441.55,402.07 L441.75,401.15 L441.96,400.18 L442.17,399.14 L442.38,398.05 L442.59,396.90 L442.79,395.70 L443.00,394.44 L443.21,393.13 L443.42,391.77 L443.62,390.36 L443.83,388.90 L444.04,387.39 L444.25,385.83 L444.46,384.24 L444.66,382.60 L444.87,380.92 L445.08,379.19 L445.29,377.44 L445.50,375.64 L445.70,373.81 L445.91,371.95 L446.12,370.06 L446.33,368.14 L446.54,366.20 L446.74,364.23 L446.95,362.23 L447.16,360.22 L447.37,358.18 L447.57,356.13 L447.78,354.07 L447.99,351.99 L448.20,349.90 L448.41,347.80 L448.61,345.70 L448.82,343.59 L449.03,341.47 L449.24,339.36 L449.45,337.25 L449.65,335.14 L449.86,333.04 L450.07,330.95 L450.28,328.87 L450.49,326.80 L450.69,324.74 L450.90,322.70 L451.11,320.68 L451.32,318.67 L451.52,316.69 L451.73,314.74 L451.94,312.81 L452.15,310.90 L452.36,309.03 L452.56,307.19 L452.77,305.38 L452.98,303.61 L453.19,301.87 L453.40,300.18 L453.60,298.52 L453.81,296.90 L454.02,295.33 L454.23,293.81 L454.44,292.33 L454.64,290.90 L454.85,289.51 L455.06,288.18 L455.27,286.90 L455.47,285.68 L455.68,284.51 L455.89,283.39 L456.10,282.33 L456.31,281.33 L456.51,280.39 L456.72,279.51 L456.93,278.69 L457.14,277.93 L457.35,277.24 L457.55,276.60 L457.76,276.03 L457.97,275.53 L458.18,275.08 L458.39,274.71 L458.59,274.40 L458.80,274.15 L459.01,273.97 L459.22,273.86 L459.42,273.81 L459.63,273.83 L459.84,273.92 L460.05,274.07 L460.26,274.29 L460.46,274.58 L460.67,274.93 L460.88,275.34 L461.09,275.82 L461.30,276.37 L461.50,276.97 L461.71,277.65 L461.92,278.38 L462.13,279.18 L462.34,280.03 L462.54,280.95 L462.75,281.93 L462.96,282.96 L463.17,284.05 L463.38,285.20 L463.58,286.41 L463.79,287.66 L464.00,288.97 L464.21,290.34 L464.41,291.75 L464.62,293.21 L464.83,294.72 L465.04,296.27 L465.25,297.87 L465.45,299.51 L465.66,301.19 L465.87,302.91 L466.08,304.67 L466.29,306.46 L466.49,308.29 L466.70,310.15 L466.91,312.04 L467.12,313.96 L467.33,315.91 L467.53,317.88 L467.74,319.87 L467.95,321.89 L468.16,323.92 L468.36,325.97 L468.57,328.04 L468.78,330.12 L468.99,332.21 L469.20,334.30 L469.40,336.41 L469.61,338.52 L469.82,340.63 L470.03,342.74 L470.24,344.85 L470.44,346.96 L470.65,349.06 L470.86,351.15 L471.07,353.24 L471.28,355.31 L471.48,357.36 L471.69,359.40 L471.90,361.43 L472.11,363.43 L472.31,365.41 L472.52,367.37 L472.73,369.30 L472.94,371.20 L473.15,373.07 L473.35,374.92 L473.56,376.72 L473.77,378.50 L473.98,380.23 L474.19,381.93 L474.39,383.59 L474.60,385.20 L474.81,386.77 L475.02,388.30 L475.23,389.78 L475.43,391.21 L475.64,392.59 L475.85,393.92 L476.06,395.20 L476.26,396.43 L476.47,397.60 L476.68,398.71 L476.89,399.77 L477.10,400.77 L477.30,401.71 L477.51,402.59 L477.72,403.41 L477.93,404.17 L478.14,404.87 L478.34,405.50 L478.55,406.07 L478.76,406.58 L478.97,407.02 L479.18,407.40 L479.38,407.71 L479.59,407.95 L479.80,408.13 L480.01,408.24 L480.21,408.29 L480.42,408.27 L480.63,408.18 L480.84,408.03 L481.05,407.81 L481.25,407.53 L481.46,407.18 L481.67,406.76 L481.88,406.28 L482.09,405.74 L482.29,405.13 L482.50,404.46 L482.71,403.72 L482.92,402.93 L483.13,402.07 L483.33,401.15 L483.54,400.18 L483.75,399.14 L483.96,398.05 L484.17,396.90 L484.37,395.70 L484.58,394.44 L484.79,393.13 L485.00,391.77 L485.20,390.36 L485.41,388.90 L485.62,387.39 L485.83,385.83 L486.04,384.24 L486.24,382.60 L486.45,380.92 L486.66,379.19 L486.87,377.44 L487.08,375.64 L487.28,373.81 L487.49,371.95 L487.70,370.06 L487.91,368.14 L488.12,366.20 L488.32,364.23 L488.53,362.23 L488.74,360.22 L488.95,358.18 L489.15,356.13 L489.36,354.07 L489.57,351.99 L489.78,349.90 L489.99,347.80 L490.19,345.70 L490.40,343.59 L490.61,341.47 L490.82,339.36 L491.03,337.25 L491.23,335.14 L491.44,333.04 L491.65,330.95 L491.86,328.87 L492.07,326.80 L492.27,324.74 L492.48,322.70 L492.69,320.68 L492.90,318.67 L493.10,316.69 L493.31,314.74 L493.52,312.81 L493.73,310.90 L493.94,309.03 L494.14,307.19 L494.35,305.38 L494.56,303.61 L494.77,301.87 L494.98,300.18 L495.18,298.52 L495.39,296.90 L495.60,295.33 L495.81,293.81 L496.02,292.33 L496.22,290.90 L496.43,289.51 L496.64,288.18 L496.85,286.90 L497.05,285.68 L497.26,284.51 L497.47,283.39 L497.68,282.33 L497.89,281.33 L498.09,280.39 L498.30,279.51 L498.51,278.69 L498.72,277.93 L498.93,277.24 L499.13,276.60 L499.34,276.03 L499.55,275.53 L499.76,275.08 L499.97,274.71 L500.17,274.40 L500.38,274.15 L500.59,273.97 L500.80,273.86 L501.00,273.81 L501.21,273.83 L501.42,273.92 L501.63,274.07 L501.84,274.29 L502.04,274.58 L502.25,274.93 L502.46,275.34 L502.67,275.82 L502.88,276.37 L503.08,276.97 L503.29,277.65 L503.50,278.38 L503.71,279.18 L503.92,280.03 L504.12,280.95 L504.33,281.93 L504.54,282.96 L504.75,284.05 L504.96,285.20 L505.16,286.41 L505.37,287.66 L505.58,288.97 L505.79,290.34 L505.99,291.75 L506.20,293.21 L506.41,294.72 L506.62,296.27 L506.83,297.87 L507.03,299.51 L507.24,301.19 L507.45,302.91 L507.66,304.67 L507.87,306.46 L508.07,308.29 L508.28,310.15 L508.49,312.04 L508.70,313.96 L508.91,315.91 L509.11,317.88 L509.32,319.87 L509.53,321.89 L509.74,323.92 L509.94,325.97 L510.15,328.04 L510.36,330.12 L510.57,332.21 L510.78,334.30 L510.98,336.41 L511.19,338.52 L511.40,340.63" fill="none" stroke="#a1a1a1" stroke-width="1.7" stroke-linejoin="round"/>
<path d="M95.60,271.85 L95.81,271.63 L96.02,271.47 L96.22,271.38 L96.43,271.35 L96.64,271.38 L96.85,271.47 L97.06,271.63 L97.26,271.85 L97.47,272.13 L97.68,272.47 L97.89,272.88 L98.09,273.34 L98.30,273.87 L98.51,274.45 L98.72,275.10 L98.93,275.81 L99.13,276.57 L99.34,277.39 L99.55,278.27 L99.76,279.20 L99.97,280.19 L100.17,281.24 L100.38,282.33 L100.59,283.48 L100.80,284.68 L101.01,285.93 L101.21,287.22 L101.42,288.57 L101.63,289.95 L101.84,291.39 L102.04,292.86 L102.25,294.38 L102.46,295.94 L102.67,297.54 L102.88,299.17 L103.08,300.84 L103.29,302.54 L103.50,304.27 L103.71,306.04 L103.92,307.83 L104.12,309.65 L104.33,311.49 L104.54,313.36 L104.75,315.25 L104.96,317.16 L105.16,319.08 L105.37,321.02 L105.58,322.98 L105.79,324.94 L105.99,326.92 L106.20,328.90 L106.41,330.89 L106.62,332.89 L106.83,334.88 L107.03,336.88 L107.24,338.87 L107.45,340.86 L107.66,342.85 L107.87,344.82 L108.07,346.79 L108.28,348.74 L108.49,350.68 L108.70,352.61 L108.91,354.52 L109.11,356.41 L109.32,358.27 L109.53,360.12 L109.74,361.94 L109.95,363.73 L110.15,365.49 L110.36,367.23 L110.57,368.93 L110.78,370.60 L110.98,372.23 L111.19,373.83 L111.40,375.38 L111.61,376.90 L111.82,378.38 L112.02,379.81 L112.23,381.20 L112.44,382.54 L112.65,383.84 L112.86,385.09 L113.06,386.29 L113.27,387.43 L113.48,388.53 L113.69,389.57 L113.90,390.56 L114.10,391.50 L114.31,392.37 L114.52,393.20 L114.73,393.96 L114.93,394.66 L115.14,395.31 L115.35,395.90 L115.56,396.43 L115.77,396.89 L115.97,397.30 L116.18,397.64 L116.39,397.92 L116.60,398.14 L116.81,398.30 L117.01,398.39 L117.22,398.42 L117.43,398.39 L117.64,398.30 L117.85,398.14 L118.05,397.92 L118.26,397.64 L118.47,397.30 L118.68,396.89 L118.88,396.43 L119.09,395.90 L119.30,395.31 L119.51,394.66 L119.72,393.96 L119.92,393.20 L120.13,392.37 L120.34,391.50 L120.55,390.56 L120.76,389.57 L120.96,388.53 L121.17,387.43 L121.38,386.29 L121.59,385.09 L121.80,383.84 L122.00,382.54 L122.21,381.20 L122.42,379.81 L122.63,378.38 L122.83,376.90 L123.04,375.38 L123.25,373.83 L123.46,372.23 L123.67,370.60 L123.87,368.93 L124.08,367.23 L124.29,365.49 L124.50,363.73 L124.71,361.94 L124.91,360.12 L125.12,358.27 L125.33,356.41 L125.54,354.52 L125.75,352.61 L125.95,350.68 L126.16,348.74 L126.37,346.79 L126.58,344.82 L126.78,342.85 L126.99,340.86 L127.20,338.87 L127.41,336.88 L127.62,334.88 L127.82,332.89 L128.03,330.89 L128.24,328.90 L128.45,326.92 L128.66,324.94 L128.86,322.98 L129.07,321.02 L129.28,319.08 L129.49,317.16 L129.70,315.25 L129.90,313.36 L130.11,311.49 L130.32,309.65 L130.53,307.83 L130.74,306.04 L130.94,304.27 L131.15,302.54 L131.36,300.84 L131.57,299.17 L131.77,297.54 L131.98,295.94 L132.19,294.38 L132.40,292.86 L132.61,291.39 L132.81,289.95 L133.02,288.57 L133.23,287.22 L133.44,285.93 L133.65,284.68 L133.85,283.48 L134.06,282.33 L134.27,281.24 L134.48,280.19 L134.69,279.20 L134.89,278.27 L135.10,277.39 L135.31,276.57 L135.52,275.81 L135.72,275.10 L135.93,274.45 L136.14,273.87 L136.35,273.34 L136.56,272.88 L136.76,272.47 L136.97,272.13 L137.18,271.85 L137.39,271.63 L137.60,271.47 L137.80,271.38 L138.01,271.35 L138.22,271.38 L138.43,271.47 L138.64,271.63 L138.84,271.85 L139.05,272.13 L139.26,272.47 L139.47,272.88 L139.67,273.34 L139.88,273.87 L140.09,274.45 L140.30,275.10 L140.51,275.81 L140.71,276.57 L140.92,277.39 L141.13,278.27 L141.34,279.20 L141.55,280.19 L141.75,281.24 L141.96,282.33 L142.17,283.48 L142.38,284.68 L142.59,285.93 L142.79,287.22 L143.00,288.57 L143.21,289.95 L143.42,291.39 L143.62,292.86 L143.83,294.38 L144.04,295.94 L144.25,297.54 L144.46,299.17 L144.66,300.84 L144.87,302.54 L145.08,304.27 L145.29,306.04 L145.50,307.83 L145.70,309.65 L145.91,311.49 L146.12,313.36 L146.33,315.25 L146.54,317.16 L146.74,319.08 L146.95,321.02 L147.16,322.98 L147.37,324.94 L147.57,326.92 L147.78,328.90 L147.99,330.89 L148.20,332.89 L148.41,334.88 L148.61,336.88 L148.82,338.87 L149.03,340.86 L149.24,342.85 L149.45,344.82 L149.65,346.79 L149.86,348.74 L150.07,350.68 L150.28,352.61 L150.49,354.52 L150.69,356.41 L150.90,358.27 L151.11,360.12 L151.32,361.94 L151.53,363.73 L151.73,365.49 L151.94,367.23 L152.15,368.93 L152.36,370.60 L152.56,372.23 L152.77,373.83 L152.98,375.38 L153.19,376.90 L153.40,378.38 L153.60,379.81 L153.81,381.20 L154.02,382.54 L154.23,383.84 L154.44,385.09 L154.64,386.29 L154.85,387.43 L155.06,388.53 L155.27,389.57 L155.48,390.56 L155.68,391.50 L155.89,392.37 L156.10,393.20 L156.31,393.96 L156.51,394.66 L156.72,395.31 L156.93,395.90 L157.14,396.43 L157.35,396.89 L157.55,397.30 L157.76,397.64 L157.97,397.92 L158.18,398.14 L158.39,398.30 L158.59,398.39 L158.80,398.42 L159.01,398.39 L159.22,398.30 L159.43,398.14 L159.63,397.92 L159.84,397.64 L160.05,397.30 L160.26,396.89 L160.46,396.43 L160.67,395.90 L160.88,395.31 L161.09,394.66 L161.30,393.96 L161.50,393.20 L161.71,392.37 L161.92,391.50 L162.13,390.56 L162.34,389.57 L162.54,388.53 L162.75,387.43 L162.96,386.29 L163.17,385.09 L163.38,383.84 L163.58,382.54 L163.79,381.20 L164.00,379.81 L164.21,378.38 L164.41,376.90 L164.62,375.38 L164.83,373.83 L165.04,372.23 L165.25,370.60 L165.45,368.93 L165.66,367.23 L165.87,365.49 L166.08,363.73 L166.29,361.94 L166.49,360.12 L166.70,358.27 L166.91,356.41 L167.12,354.52 L167.33,352.61 L167.53,350.68 L167.74,348.74 L167.95,346.79 L168.16,344.82 L168.36,342.85 L168.57,340.86 L168.78,338.87 L168.99,336.88 L169.20,334.88 L169.40,332.89 L169.61,330.89 L169.82,328.90 L170.03,326.92 L170.24,324.94 L170.44,322.98 L170.65,321.02 L170.86,319.08 L171.07,317.16 L171.28,315.25 L171.48,313.36 L171.69,311.49 L171.90,309.65 L172.11,307.83 L172.32,306.04 L172.52,304.27 L172.73,302.54 L172.94,300.84 L173.15,299.17 L173.35,297.54 L173.56,295.94 L173.77,294.38 L173.98,292.86 L174.19,291.39 L174.39,289.95 L174.60,288.57 L174.81,287.22 L175.02,285.93 L175.23,284.68 L175.43,283.48 L175.64,282.33 L175.85,281.24 L176.06,280.19 L176.27,279.20 L176.47,278.27 L176.68,277.39 L176.89,276.57 L177.10,275.81 L177.30,275.10 L177.51,274.45 L177.72,273.87 L177.93,273.34 L178.14,272.88 L178.34,272.47 L178.55,272.13 L178.76,271.85 L178.97,271.63 L179.18,271.47 L179.38,271.38 L179.59,271.35 L179.80,271.38 L180.01,271.47 L180.22,271.63 L180.42,271.85 L180.63,272.13 L180.84,272.47 L181.05,272.88 L181.25,273.34 L181.46,273.87 L181.67,274.45 L181.88,275.10 L182.09,275.81 L182.29,276.57 L182.50,277.39 L182.71,278.27 L182.92,279.20 L183.13,280.19 L183.33,281.24 L183.54,282.33 L183.75,283.48 L183.96,284.68 L184.17,285.93 L184.37,287.22 L184.58,288.57 L184.79,289.95 L185.00,291.39 L185.20,292.86 L185.41,294.38 L185.62,295.94 L185.83,297.54 L186.04,299.17 L186.24,300.84 L186.45,302.54 L186.66,304.27 L186.87,306.04 L187.08,307.83 L187.28,309.65 L187.49,311.49 L187.70,313.36 L187.91,315.25 L188.12,317.16 L188.32,319.08 L188.53,321.02 L188.74,322.98 L188.95,324.94 L189.15,326.92 L189.36,328.90 L189.57,330.89 L189.78,332.89 L189.99,334.88 L190.19,336.88 L190.40,338.87 L190.61,340.86 L190.82,342.85 L191.03,344.82 L191.23,346.79 L191.44,348.74 L191.65,350.68 L191.86,352.61 L192.07,354.52 L192.27,356.41 L192.48,358.27 L192.69,360.12 L192.90,361.94 L193.11,363.73 L193.31,365.49 L193.52,367.23 L193.73,368.93 L193.94,370.60 L194.14,372.23 L194.35,373.83 L194.56,375.38 L194.77,376.90 L194.98,378.38 L195.18,379.81 L195.39,381.20 L195.60,382.54 L195.81,383.84 L196.02,385.09 L196.22,386.29 L196.43,387.43 L196.64,388.53 L196.85,389.57 L197.06,390.56 L197.26,391.50 L197.47,392.37 L197.68,393.20 L197.89,393.96 L198.09,394.66 L198.30,395.31 L198.51,395.90 L198.72,396.43 L198.93,396.89 L199.13,397.30 L199.34,397.64 L199.55,397.92 L199.76,398.14 L199.97,398.30 L200.17,398.39 L200.38,398.42 L200.59,398.39 L200.80,398.30 L201.01,398.14 L201.21,397.92 L201.42,397.64 L201.63,397.30 L201.84,396.89 L202.04,396.43 L202.25,395.90 L202.46,395.31 L202.67,394.66 L202.88,393.96 L203.08,393.20 L203.29,392.37 L203.50,391.50 L203.71,390.56 L203.92,389.57 L204.12,388.53 L204.33,387.43 L204.54,386.29 L204.75,385.09 L204.96,383.84 L205.16,382.54 L205.37,381.20 L205.58,379.81 L205.79,378.38 L205.99,376.90 L206.20,375.38 L206.41,373.83 L206.62,372.23 L206.83,370.60 L207.03,368.93 L207.24,367.23 L207.45,365.49 L207.66,363.73 L207.87,361.94 L208.07,360.12 L208.28,358.27 L208.49,356.41 L208.70,354.52 L208.91,352.61 L209.11,350.68 L209.32,348.74 L209.53,346.79 L209.74,344.82 L209.94,342.85 L210.15,340.86 L210.36,338.87 L210.57,336.88 L210.78,334.88 L210.98,332.89 L211.19,330.89 L211.40,328.90 L211.61,326.92 L211.82,324.94 L212.02,322.98 L212.23,321.02 L212.44,319.08 L212.65,317.16 L212.86,315.25 L213.06,313.36 L213.27,311.49 L213.48,309.65 L213.69,307.83 L213.90,306.04 L214.10,304.27 L214.31,302.54 L214.52,300.84 L214.73,299.17 L214.93,297.54 L215.14,295.94 L215.35,294.38 L215.56,292.86 L215.77,291.39 L215.97,289.95 L216.18,288.57 L216.39,287.22 L216.60,285.93 L216.81,284.68 L217.01,283.48 L217.22,282.33 L217.43,281.24 L217.64,280.19 L217.85,279.20 L218.05,278.27 L218.26,277.39 L218.47,276.57 L218.68,275.81 L218.88,275.10 L219.09,274.45 L219.30,273.87 L219.51,273.34 L219.72,272.88 L219.92,272.47 L220.13,272.13 L220.34,271.85 L220.55,271.63 L220.76,271.47 L220.96,271.38 L221.17,271.35 L221.38,271.38 L221.59,271.47 L221.80,271.63 L222.00,271.85 L222.21,272.13 L222.42,272.47 L222.63,272.88 L222.83,273.34 L223.04,273.87 L223.25,274.45 L223.46,275.10 L223.67,275.81 L223.87,276.57 L224.08,277.39 L224.29,278.27 L224.50,279.20 L224.71,280.19 L224.91,281.24 L225.12,282.33 L225.33,283.48 L225.54,284.68 L225.75,285.93 L225.95,287.22 L226.16,288.57 L226.37,289.95 L226.58,291.39 L226.78,292.86 L226.99,294.38 L227.20,295.94 L227.41,297.54 L227.62,299.17 L227.82,300.84 L228.03,302.54 L228.24,304.27 L228.45,306.04 L228.66,307.83 L228.86,309.65 L229.07,311.49 L229.28,313.36 L229.49,315.25 L229.70,317.16 L229.90,319.08 L230.11,321.02 L230.32,322.98 L230.53,324.94 L230.73,326.92 L230.94,328.90 L231.15,330.89 L231.36,332.89 L231.57,334.88 L231.77,336.88 L231.98,338.87 L232.19,340.86 L232.40,342.85 L232.61,344.82 L232.81,346.79 L233.02,348.74 L233.23,350.68 L233.44,352.61 L233.65,354.52 L233.85,356.41 L234.06,358.27 L234.27,360.12 L234.48,361.94 L234.69,363.73 L234.89,365.49 L235.10,367.23 L235.31,368.93 L235.52,370.60 L235.72,372.23 L235.93,373.83 L236.14,375.38 L236.35,376.90 L236.56,378.38 L236.76,379.81 L236.97,381.20 L237.18,382.54 L237.39,383.84 L237.60,385.09 L237.80,386.29 L238.01,387.43 L238.22,388.53 L238.43,389.57 L238.64,390.56 L238.84,391.50 L239.05,392.37 L239.26,393.20 L239.47,393.96 L239.67,394.66 L239.88,395.31 L240.09,395.90 L240.30,396.43 L240.51,396.89 L240.71,397.30 L240.92,397.64 L241.13,397.92 L241.34,398.14 L241.55,398.30 L241.75,398.39 L241.96,398.42 L242.17,398.39 L242.38,398.30 L242.59,398.14 L242.79,397.92 L243.00,397.64 L243.21,397.30 L243.42,396.89 L243.62,396.43 L243.83,395.90 L244.04,395.31 L244.25,394.66 L244.46,393.96 L244.66,393.20 L244.87,392.37 L245.08,391.50 L245.29,390.56 L245.50,389.57 L245.70,388.53 L245.91,387.43 L246.12,386.29 L246.33,385.09 L246.54,383.84 L246.74,382.54 L246.95,381.20 L247.16,379.81 L247.37,378.38 L247.57,376.90 L247.78,375.38 L247.99,373.83 L248.20,372.23 L248.41,370.60 L248.61,368.93 L248.82,367.23 L249.03,365.49 L249.24,363.73 L249.45,361.94 L249.65,360.12 L249.86,358.27 L250.07,356.41 L250.28,354.52 L250.49,352.61 L250.69,350.68 L250.90,348.74 L251.11,346.79 L251.32,344.82 L251.52,342.85 L251.73,340.86 L251.94,338.87 L252.15,336.88 L252.36,334.88 L252.56,332.89 L252.77,330.89 L252.98,328.90 L253.19,326.92 L253.40,324.94 L253.60,322.98 L253.81,321.02 L254.02,319.08 L254.23,317.16 L254.44,315.25 L254.64,313.36 L254.85,311.49 L255.06,309.65 L255.27,307.83 L255.48,306.04 L255.68,304.27 L255.89,302.54 L256.10,300.84 L256.31,299.17 L256.51,297.54 L256.72,295.94 L256.93,294.38 L257.14,292.86 L257.35,291.39 L257.55,289.95 L257.76,288.57 L257.97,287.22 L258.18,285.93 L258.39,284.68 L258.59,283.48 L258.80,282.33 L259.01,281.24 L259.22,280.19 L259.43,279.20 L259.63,278.27 L259.84,277.39 L260.05,276.57 L260.26,275.81 L260.46,275.10 L260.67,274.45 L260.88,273.87 L261.09,273.34 L261.30,272.88 L261.50,272.47 L261.71,272.13 L261.92,271.85 L262.13,271.63 L262.34,271.47 L262.54,271.38 L262.75,271.35 L262.96,271.38 L263.17,271.47 L263.38,271.63 L263.58,271.85 L263.79,272.13 L264.00,272.47 L264.21,272.88 L264.41,273.34 L264.62,273.87 L264.83,274.45 L265.04,275.10 L265.25,275.81 L265.45,276.57 L265.66,277.39 L265.87,278.27 L266.08,279.20 L266.29,280.19 L266.49,281.24 L266.70,282.33 L266.91,283.48 L267.12,284.68 L267.33,285.93 L267.53,287.22 L267.74,288.57 L267.95,289.95 L268.16,291.39 L268.36,292.86 L268.57,294.38 L268.78,295.94 L268.99,297.54 L269.20,299.17 L269.40,300.84 L269.61,302.54 L269.82,304.27 L270.03,306.04 L270.24,307.83 L270.44,309.65 L270.65,311.49 L270.86,313.36 L271.07,315.25 L271.28,317.16 L271.48,319.08 L271.69,321.02 L271.90,322.98 L272.11,324.94 L272.31,326.92 L272.52,328.90 L272.73,330.89 L272.94,332.89 L273.15,334.88 L273.35,336.88 L273.56,338.87 L273.77,340.86 L273.98,342.85 L274.19,344.82 L274.39,346.79 L274.60,348.74 L274.81,350.68 L275.02,352.61 L275.23,354.52 L275.43,356.41 L275.64,358.27 L275.85,360.12 L276.06,361.94 L276.27,363.73 L276.47,365.49 L276.68,367.23 L276.89,368.93 L277.10,370.60 L277.30,372.23 L277.51,373.83 L277.72,375.38 L277.93,376.90 L278.14,378.38 L278.34,379.81 L278.55,381.20 L278.76,382.54 L278.97,383.84 L279.18,385.09 L279.38,386.29 L279.59,387.43 L279.80,388.53 L280.01,389.57 L280.22,390.56 L280.42,391.50 L280.63,392.37 L280.84,393.20 L281.05,393.96 L281.25,394.66 L281.46,395.31 L281.67,395.90 L281.88,396.43 L282.09,396.89 L282.29,397.30 L282.50,397.64 L282.71,397.92 L282.92,398.14 L283.13,398.30 L283.33,398.39 L283.54,398.42 L283.75,398.39 L283.96,398.30 L284.17,398.14 L284.37,397.92 L284.58,397.64 L284.79,397.30 L285.00,396.89 L285.20,396.43 L285.41,395.90 L285.62,395.31 L285.83,394.66 L286.04,393.96 L286.24,393.20 L286.45,392.37 L286.66,391.50 L286.87,390.56 L287.08,389.57 L287.28,388.53 L287.49,387.43 L287.70,386.29 L287.91,385.09 L288.12,383.84 L288.32,382.54 L288.53,381.20 L288.74,379.81 L288.95,378.38 L289.15,376.90 L289.36,375.38 L289.57,373.83 L289.78,372.23 L289.99,370.60 L290.19,368.93 L290.40,367.23 L290.61,365.49 L290.82,363.73 L291.03,361.94 L291.23,360.12 L291.44,358.27 L291.65,356.41 L291.86,354.52 L292.07,352.61 L292.27,350.68 L292.48,348.74 L292.69,346.79 L292.90,344.82 L293.10,342.85 L293.31,340.86 L293.52,338.87 L293.73,336.88 L293.94,334.88 L294.14,332.89 L294.35,330.89 L294.56,328.90 L294.77,326.92 L294.98,324.94 L295.18,322.98 L295.39,321.02 L295.60,319.08 L295.81,317.16 L296.02,315.25 L296.22,313.36 L296.43,311.49 L296.64,309.65 L296.85,307.83 L297.06,306.04 L297.26,304.27 L297.47,302.54 L297.68,300.84 L297.89,299.17 L298.09,297.54 L298.30,295.94 L298.51,294.38 L298.72,292.86 L298.93,291.39 L299.13,289.95 L299.34,288.57 L299.55,287.22 L299.76,285.93 L299.97,284.68 L300.17,283.48 L300.38,282.33 L300.59,281.24 L300.80,280.19 L301.01,279.20 L301.21,278.27 L301.42,277.39 L301.63,276.57 L301.84,275.81 L302.04,275.10 L302.25,274.45 L302.46,273.87 L302.67,273.34 L302.88,272.88 L303.08,272.47 L303.29,272.13 L303.50,271.85 L303.71,271.63 L303.92,271.47 L304.12,271.38 L304.33,271.35 L304.54,271.38 L304.75,271.47 L304.96,271.63 L305.16,271.85 L305.37,272.13 L305.58,272.47 L305.79,272.88 L305.99,273.34 L306.20,273.87 L306.41,274.45 L306.62,275.10 L306.83,275.81 L307.03,276.57 L307.24,277.39 L307.45,278.27 L307.66,279.20 L307.87,280.19 L308.07,281.24 L308.28,282.33 L308.49,283.48 L308.70,284.68 L308.91,285.93 L309.11,287.22 L309.32,288.57 L309.53,289.95 L309.74,291.39 L309.94,292.86 L310.15,294.38 L310.36,295.94 L310.57,297.54 L310.78,299.17 L310.98,300.84 L311.19,302.54 L311.40,304.27 L311.61,306.04 L311.82,307.83 L312.02,309.65 L312.23,311.49 L312.44,313.36 L312.65,315.25 L312.86,317.16 L313.06,319.08 L313.27,321.02 L313.48,322.98 L313.69,324.94 L313.89,326.92 L314.10,328.90 L314.31,330.89 L314.52,332.89 L314.73,334.88 L314.93,336.88 L315.14,338.87 L315.35,340.86 L315.56,342.85 L315.77,344.82 L315.97,346.79 L316.18,348.74 L316.39,350.68 L316.60,352.61 L316.81,354.52 L317.01,356.41 L317.22,358.27 L317.43,360.12 L317.64,361.94 L317.85,363.73 L318.05,365.49 L318.26,367.23 L318.47,368.93 L318.68,370.60 L318.88,372.23 L319.09,373.83 L319.30,375.38 L319.51,376.90 L319.72,378.38 L319.92,379.81 L320.13,381.20 L320.34,382.54 L320.55,383.84 L320.76,385.09 L320.96,386.29 L321.17,387.43 L321.38,388.53 L321.59,389.57 L321.80,390.56 L322.00,391.50 L322.21,392.37 L322.42,393.20 L322.63,393.96 L322.83,394.66 L323.04,395.31 L323.25,395.90 L323.46,396.43 L323.67,396.89 L323.87,397.30 L324.08,397.64 L324.29,397.92 L324.50,398.14 L324.71,398.30 L324.91,398.39 L325.12,398.42 L325.33,398.39 L325.54,398.30 L325.75,398.14 L325.95,397.92 L326.16,397.64 L326.37,397.30 L326.58,396.89 L326.78,396.43 L326.99,395.90 L327.20,395.31 L327.41,394.66 L327.62,393.96 L327.82,393.20 L328.03,392.37 L328.24,391.50 L328.45,390.56 L328.66,389.57 L328.86,388.53 L329.07,387.43 L329.28,386.29 L329.49,385.09 L329.70,383.84 L329.90,382.54 L330.11,381.20 L330.32,379.81 L330.53,378.38 L330.73,376.90 L330.94,375.38 L331.15,373.83 L331.36,372.23 L331.57,370.60 L331.77,368.93 L331.98,367.23 L332.19,365.49 L332.40,363.73 L332.61,361.94 L332.81,360.12 L333.02,358.27 L333.23,356.41 L333.44,354.52 L333.65,352.61 L333.85,350.68 L334.06,348.74 L334.27,346.79 L334.48,344.82 L334.68,342.85 L334.89,340.86 L335.10,338.87 L335.31,336.88 L335.52,334.88 L335.72,332.89 L335.93,330.89 L336.14,328.90 L336.35,326.92 L336.56,324.94 L336.76,322.98 L336.97,321.02 L337.18,319.08 L337.39,317.16 L337.60,315.25 L337.80,313.36 L338.01,311.49 L338.22,309.65 L338.43,307.83 L338.64,306.04 L338.84,304.27 L339.05,302.54 L339.26,300.84 L339.47,299.17 L339.67,297.54 L339.88,295.94 L340.09,294.38 L340.30,292.86 L340.51,291.39 L340.71,289.95 L340.92,288.57 L341.13,287.22 L341.34,285.93 L341.55,284.68 L341.75,283.48 L341.96,282.33 L342.17,281.24 L342.38,280.19 L342.59,279.20 L342.79,278.27 L343.00,277.39 L343.21,276.57 L343.42,275.81 L343.62,275.10 L343.83,274.45 L344.04,273.87 L344.25,273.34 L344.46,272.88 L344.66,272.47 L344.87,272.13 L345.08,271.85 L345.29,271.63 L345.50,271.47 L345.70,271.38 L345.91,271.35 L346.12,271.38 L346.33,271.47 L346.54,271.63 L346.74,271.85 L346.95,272.13 L347.16,272.47 L347.37,272.88 L347.57,273.34 L347.78,273.87 L347.99,274.45 L348.20,275.10 L348.41,275.81 L348.61,276.57 L348.82,277.39 L349.03,278.27 L349.24,279.20 L349.45,280.19 L349.65,281.24 L349.86,282.33 L350.07,283.48 L350.28,284.68 L350.49,285.93 L350.69,287.22 L350.90,288.57 L351.11,289.95 L351.32,291.39 L351.52,292.86 L351.73,294.38 L351.94,295.94 L352.15,297.54 L352.36,299.17 L352.56,300.84 L352.77,302.54 L352.98,304.27 L353.19,306.04 L353.40,307.83 L353.60,309.65 L353.81,311.49 L354.02,313.36 L354.23,315.25 L354.44,317.16 L354.64,319.08 L354.85,321.02 L355.06,322.98 L355.27,324.94 L355.47,326.92 L355.68,328.90 L355.89,330.89 L356.10,332.89 L356.31,334.88 L356.51,336.88 L356.72,338.87 L356.93,340.86 L357.14,342.85 L357.35,344.82 L357.55,346.79 L357.76,348.74 L357.97,350.68 L358.18,352.61 L358.39,354.52 L358.59,356.41 L358.80,358.27 L359.01,360.12 L359.22,361.94 L359.43,363.73 L359.63,365.49 L359.84,367.23 L360.05,368.93 L360.26,370.60 L360.46,372.23 L360.67,373.83 L360.88,375.38 L361.09,376.90 L361.30,378.38 L361.50,379.81 L361.71,381.20 L361.92,382.54 L362.13,383.84 L362.34,385.09 L362.54,386.29 L362.75,387.43 L362.96,388.53 L363.17,389.57 L363.38,390.56 L363.58,391.50 L363.79,392.37 L364.00,393.20 L364.21,393.96 L364.41,394.66 L364.62,395.31 L364.83,395.90 L365.04,396.43 L365.25,396.89 L365.45,397.30 L365.66,397.64 L365.87,397.92 L366.08,398.14 L366.29,398.30 L366.49,398.39 L366.70,398.42 L366.91,398.39 L367.12,398.30 L367.33,398.14 L367.53,397.92 L367.74,397.64 L367.95,397.30 L368.16,396.89 L368.36,396.43 L368.57,395.90 L368.78,395.31 L368.99,394.66 L369.20,393.96 L369.40,393.20 L369.61,392.37 L369.82,391.50 L370.03,390.56 L370.24,389.57 L370.44,388.53 L370.65,387.43 L370.86,386.29 L371.07,385.09 L371.28,383.84 L371.48,382.54 L371.69,381.20 L371.90,379.81 L372.11,378.38 L372.31,376.90 L372.52,375.38 L372.73,373.83 L372.94,372.23 L373.15,370.60 L373.35,368.93 L373.56,367.23 L373.77,365.49 L373.98,363.73 L374.19,361.94 L374.39,360.12 L374.60,358.27 L374.81,356.41 L375.02,354.52 L375.23,352.61 L375.43,350.68 L375.64,348.74 L375.85,346.79 L376.06,344.82 L376.26,342.85 L376.47,340.86 L376.68,338.87 L376.89,336.88 L377.10,334.88 L377.30,332.89 L377.51,330.89 L377.72,328.90 L377.93,326.92 L378.14,324.94 L378.34,322.98 L378.55,321.02 L378.76,319.08 L378.97,317.16 L379.18,315.25 L379.38,313.36 L379.59,311.49 L379.80,309.65 L380.01,307.83 L380.22,306.04 L380.42,304.27 L380.63,302.54 L380.84,300.84 L381.05,299.17 L381.25,297.54 L381.46,295.94 L381.67,294.38 L381.88,292.86 L382.09,291.39 L382.29,289.95 L382.50,288.57 L382.71,287.22 L382.92,285.93 L383.13,284.68 L383.33,283.48 L383.54,282.33 L383.75,281.24 L383.96,280.19 L384.17,279.20 L384.37,278.27 L384.58,277.39 L384.79,276.57 L385.00,275.81 L385.20,275.10 L385.41,274.45 L385.62,273.87 L385.83,273.34 L386.04,272.88 L386.24,272.47 L386.45,272.13 L386.66,271.85 L386.87,271.63 L387.08,271.47 L387.28,271.38 L387.49,271.35 L387.70,271.38 L387.91,271.47 L388.12,271.63 L388.32,271.85 L388.53,272.13 L388.74,272.47 L388.95,272.88 L389.15,273.34 L389.36,273.87 L389.57,274.45 L389.78,275.10 L389.99,275.81 L390.19,276.57 L390.40,277.39 L390.61,278.27 L390.82,279.20 L391.03,280.19 L391.23,281.24 L391.44,282.33 L391.65,283.48 L391.86,284.68 L392.07,285.93 L392.27,287.22 L392.48,288.57 L392.69,289.95 L392.90,291.39 L393.10,292.86 L393.31,294.38 L393.52,295.94 L393.73,297.54 L393.94,299.17 L394.14,300.84 L394.35,302.54 L394.56,304.27 L394.77,306.04 L394.98,307.83 L395.18,309.65 L395.39,311.49 L395.60,313.36 L395.81,315.25 L396.02,317.16 L396.22,319.08 L396.43,321.02 L396.64,322.98 L396.85,324.94 L397.05,326.92 L397.26,328.90 L397.47,330.89 L397.68,332.89 L397.89,334.88 L398.09,336.88 L398.30,338.87 L398.51,340.86 L398.72,342.85 L398.93,344.82 L399.13,346.79 L399.34,348.74 L399.55,350.68 L399.76,352.61 L399.97,354.52 L400.17,356.41 L400.38,358.27 L400.59,360.12 L400.80,361.94 L401.01,363.73 L401.21,365.49 L401.42,367.23 L401.63,368.93 L401.84,370.60 L402.04,372.23 L402.25,373.83 L402.46,375.38 L402.67,376.90 L402.88,378.38 L403.08,379.81 L403.29,381.20 L403.50,382.54 L403.71,383.84 L403.92,385.09 L404.12,386.29 L404.33,387.43 L404.54,388.53 L404.75,389.57 L404.96,390.56 L405.16,391.50 L405.37,392.37 L405.58,393.20 L405.79,393.96 L405.99,394.66 L406.20,395.31 L406.41,395.90 L406.62,396.43 L406.83,396.89 L407.03,397.30 L407.24,397.64 L407.45,397.92 L407.66,398.14 L407.87,398.30 L408.07,398.39 L408.28,398.42 L408.49,398.39 L408.70,398.30 L408.91,398.14 L409.11,397.92 L409.32,397.64 L409.53,397.30 L409.74,396.89 L409.94,396.43 L410.15,395.90 L410.36,395.31 L410.57,394.66 L410.78,393.96 L410.98,393.20 L411.19,392.37 L411.40,391.50 L411.61,390.56 L411.82,389.57 L412.02,388.53 L412.23,387.43 L412.44,386.29 L412.65,385.09 L412.86,383.84 L413.06,382.54 L413.27,381.20 L413.48,379.81 L413.69,378.38 L413.89,376.90 L414.10,375.38 L414.31,373.83 L414.52,372.23 L414.73,370.60 L414.93,368.93 L415.14,367.23 L415.35,365.49 L415.56,363.73 L415.77,361.94 L415.97,360.12 L416.18,358.27 L416.39,356.41 L416.60,354.52 L416.81,352.61 L417.01,350.68 L417.22,348.74 L417.43,346.79 L417.64,344.82 L417.85,342.85 L418.05,340.86 L418.26,338.87 L418.47,336.88 L418.68,334.88 L418.88,332.89 L419.09,330.89 L419.30,328.90 L419.51,326.92 L419.72,324.94 L419.92,322.98 L420.13,321.02 L420.34,319.08 L420.55,317.16 L420.76,315.25 L420.96,313.36 L421.17,311.49 L421.38,309.65 L421.59,307.83 L421.80,306.04 L422.00,304.27 L422.21,302.54 L422.42,300.84 L422.63,299.17 L422.83,297.54 L423.04,295.94 L423.25,294.38 L423.46,292.86 L423.67,291.39 L423.87,289.95 L424.08,288.57 L424.29,287.22 L424.50,285.93 L424.71,284.68 L424.91,283.48 L425.12,282.33 L425.33,281.24 L425.54,280.19 L425.75,279.20 L425.95,278.27 L426.16,277.39 L426.37,276.57 L426.58,275.81 L426.78,275.10 L426.99,274.45 L427.20,273.87 L427.41,273.34 L427.62,272.88 L427.82,272.47 L428.03,272.13 L428.24,271.85 L428.45,271.63 L428.66,271.47 L428.86,271.38 L429.07,271.35 L429.28,271.38 L429.49,271.47 L429.70,271.63 L429.90,271.85 L430.11,272.13 L430.32,272.47 L430.53,272.88 L430.73,273.34 L430.94,273.87 L431.15,274.45 L431.36,275.10 L431.57,275.81 L431.77,276.57 L431.98,277.39 L432.19,278.27 L432.40,279.20 L432.61,280.19 L432.81,281.24 L433.02,282.33 L433.23,283.48 L433.44,284.68 L433.65,285.93 L433.85,287.22 L434.06,288.57 L434.27,289.95 L434.48,291.39 L434.68,292.86 L434.89,294.38 L435.10,295.94 L435.31,297.54 L435.52,299.17 L435.72,300.84 L435.93,302.54 L436.14,304.27 L436.35,306.04 L436.56,307.83 L436.76,309.65 L436.97,311.49 L437.18,313.36 L437.39,315.25 L437.60,317.16 L437.80,319.08 L438.01,321.02 L438.22,322.98 L438.43,324.94 L438.63,326.92 L438.84,328.90 L439.05,330.89 L439.26,332.89 L439.47,334.88 L439.67,336.88 L439.88,338.87 L440.09,340.86 L440.30,342.85 L440.51,344.82 L440.71,346.79 L440.92,348.74 L441.13,350.68 L441.34,352.61 L441.55,354.52 L441.75,356.41 L441.96,358.27 L442.17,360.12 L442.38,361.94 L442.59,363.73 L442.79,365.49 L443.00,367.23 L443.21,368.93 L443.42,370.60 L443.62,372.23 L443.83,373.83 L444.04,375.38 L444.25,376.90 L444.46,378.38 L444.66,379.81 L444.87,381.20 L445.08,382.54 L445.29,383.84 L445.50,385.09 L445.70,386.29 L445.91,387.43 L446.12,388.53 L446.33,389.57 L446.54,390.56 L446.74,391.50 L446.95,392.37 L447.16,393.20 L447.37,393.96 L447.57,394.66 L447.78,395.31 L447.99,395.90 L448.20,396.43 L448.41,396.89 L448.61,397.30 L448.82,397.64 L449.03,397.92 L449.24,398.14 L449.45,398.30 L449.65,398.39 L449.86,398.42 L450.07,398.39 L450.28,398.30 L450.49,398.14 L450.69,397.92 L450.90,397.64 L451.11,397.30 L451.32,396.89 L451.52,396.43 L451.73,395.90 L451.94,395.31 L452.15,394.66 L452.36,393.96 L452.56,393.20 L452.77,392.37 L452.98,391.50 L453.19,390.56 L453.40,389.57 L453.60,388.53 L453.81,387.43 L454.02,386.29 L454.23,385.09 L454.44,383.84 L454.64,382.54 L454.85,381.20 L455.06,379.81 L455.27,378.38 L455.47,376.90 L455.68,375.38 L455.89,373.83 L456.10,372.23 L456.31,370.60 L456.51,368.93 L456.72,367.23 L456.93,365.49 L457.14,363.73 L457.35,361.94 L457.55,360.12 L457.76,358.27 L457.97,356.41 L458.18,354.52 L458.39,352.61 L458.59,350.68 L458.80,348.74 L459.01,346.79 L459.22,344.82 L459.42,342.85 L459.63,340.86 L459.84,338.87 L460.05,336.88 L460.26,334.88 L460.46,332.89 L460.67,330.89 L460.88,328.90 L461.09,326.92 L461.30,324.94 L461.50,322.98 L461.71,321.02 L461.92,319.08 L462.13,317.16 L462.34,315.25 L462.54,313.36 L462.75,311.49 L462.96,309.65 L463.17,307.83 L463.38,306.04 L463.58,304.27 L463.79,302.54 L464.00,300.84 L464.21,299.17 L464.41,297.54 L464.62,295.94 L464.83,294.38 L465.04,292.86 L465.25,291.39 L465.45,289.95 L465.66,288.57 L465.87,287.22 L466.08,285.93 L466.29,284.68 L466.49,283.48 L466.70,282.33 L466.91,281.24 L467.12,280.19 L467.33,279.20 L467.53,278.27 L467.74,277.39 L467.95,276.57 L468.16,275.81 L468.36,275.10 L468.57,274.45 L468.78,273.87 L468.99,273.34 L469.20,272.88 L469.40,272.47 L469.61,272.13 L469.82,271.85 L470.03,271.63 L470.24,271.47 L470.44,271.38 L470.65,271.35 L470.86,271.38 L471.07,271.47 L471.28,271.63 L471.48,271.85 L471.69,272.13 L471.90,272.47 L472.11,272.88 L472.31,273.34 L472.52,273.87 L472.73,274.45 L472.94,275.10 L473.15,275.81 L473.35,276.57 L473.56,277.39 L473.77,278.27 L473.98,279.20 L474.19,280.19 L474.39,281.24 L474.60,282.33 L474.81,283.48 L475.02,284.68 L475.23,285.93 L475.43,287.22 L475.64,288.57 L475.85,289.95 L476.06,291.39 L476.26,292.86 L476.47,294.38 L476.68,295.94 L476.89,297.54 L477.10,299.17 L477.30,300.84 L477.51,302.54 L477.72,304.27 L477.93,306.04 L478.14,307.83 L478.34,309.65 L478.55,311.49 L478.76,313.36 L478.97,315.25 L479.18,317.16 L479.38,319.08 L479.59,321.02 L479.80,322.98 L480.01,324.94 L480.21,326.92 L480.42,328.90 L480.63,330.89 L480.84,332.89 L481.05,334.88 L481.25,336.88 L481.46,338.87 L481.67,340.86 L481.88,342.85 L482.09,344.82 L482.29,346.79 L482.50,348.74 L482.71,350.68 L482.92,352.61 L483.13,354.52 L483.33,356.41 L483.54,358.27 L483.75,360.12 L483.96,361.94 L484.17,363.73 L484.37,365.49 L484.58,367.23 L484.79,368.93 L485.00,370.60 L485.20,372.23 L485.41,373.83 L485.62,375.38 L485.83,376.90 L486.04,378.38 L486.24,379.81 L486.45,381.20 L486.66,382.54 L486.87,383.84 L487.08,385.09 L487.28,386.29 L487.49,387.43 L487.70,388.53 L487.91,389.57 L488.12,390.56 L488.32,391.50 L488.53,392.37 L488.74,393.20 L488.95,393.96 L489.15,394.66 L489.36,395.31 L489.57,395.90 L489.78,396.43 L489.99,396.89 L490.19,397.30 L490.40,397.64 L490.61,397.92 L490.82,398.14 L491.03,398.30 L491.23,398.39 L491.44,398.42 L491.65,398.39 L491.86,398.30 L492.07,398.14 L492.27,397.92 L492.48,397.64 L492.69,397.30 L492.90,396.89 L493.10,396.43 L493.31,395.90 L493.52,395.31 L493.73,394.66 L493.94,393.96 L494.14,393.20 L494.35,392.37 L494.56,391.50 L494.77,390.56 L494.98,389.57 L495.18,388.53 L495.39,387.43 L495.60,386.29 L495.81,385.09 L496.02,383.84 L496.22,382.54 L496.43,381.20 L496.64,379.81 L496.85,378.38 L497.05,376.90 L497.26,375.38 L497.47,373.83 L497.68,372.23 L497.89,370.60 L498.09,368.93 L498.30,367.23 L498.51,365.49 L498.72,363.73 L498.93,361.94 L499.13,360.12 L499.34,358.27 L499.55,356.41 L499.76,354.52 L499.97,352.61 L500.17,350.68 L500.38,348.74 L500.59,346.79 L500.80,344.82 L501.00,342.85 L501.21,340.86 L501.42,338.87 L501.63,336.88 L501.84,334.88 L502.04,332.89 L502.25,330.89 L502.46,328.90 L502.67,326.92 L502.88,324.94 L503.08,322.98 L503.29,321.02 L503.50,319.08 L503.71,317.16 L503.92,315.25 L504.12,313.36 L504.33,311.49 L504.54,309.65 L504.75,307.83 L504.96,306.04 L505.16,304.27 L505.37,302.54 L505.58,300.84 L505.79,299.17 L505.99,297.54 L506.20,295.94 L506.41,294.38 L506.62,292.86 L506.83,291.39 L507.03,289.95 L507.24,288.57 L507.45,287.22 L507.66,285.93 L507.87,284.68 L508.07,283.48 L508.28,282.33 L508.49,281.24 L508.70,280.19 L508.91,279.20 L509.11,278.27 L509.32,277.39 L509.53,276.57 L509.74,275.81 L509.94,275.10 L510.15,274.45 L510.36,273.87 L510.57,273.34 L510.78,272.88 L510.98,272.47 L511.19,272.13 L511.40,271.85" fill="none" stroke="#3c60a4" stroke-width="1.75" stroke-linejoin="round"/>
<line x1="95.60" y1="236.80" x2="95.60" y2="434.20" stroke="#6a6a6a" stroke-width="1"/>
<line x1="95.60" y1="434.20" x2="511.40" y2="434.20" stroke="#6a6a6a" stroke-width="1"/>
<line x1="90.10" y1="236.80" x2="95.60" y2="236.80" stroke="#6a6a6a" stroke-width="1"/>
<line x1="91.60" y1="241.74" x2="95.60" y2="241.74" stroke="#6a6a6a" stroke-width="1"/>
<line x1="91.60" y1="246.67" x2="95.60" y2="246.67" stroke="#6a6a6a" stroke-width="1"/>
<line x1="91.60" y1="251.61" x2="95.60" y2="251.61" stroke="#6a6a6a" stroke-width="1"/>
<line x1="91.60" y1="256.54" x2="95.60" y2="256.54" stroke="#6a6a6a" stroke-width="1"/>
<line x1="90.10" y1="261.48" x2="95.60" y2="261.48" stroke="#6a6a6a" stroke-width="1"/>
<line x1="91.60" y1="266.41" x2="95.60" y2="266.41" stroke="#6a6a6a" stroke-width="1"/>
<line x1="91.60" y1="271.35" x2="95.60" y2="271.35" stroke="#6a6a6a" stroke-width="1"/>
<line x1="91.60" y1="276.28" x2="95.60" y2="276.28" stroke="#6a6a6a" stroke-width="1"/>
<line x1="91.60" y1="281.22" x2="95.60" y2="281.22" stroke="#6a6a6a" stroke-width="1"/>
<line x1="90.10" y1="286.15" x2="95.60" y2="286.15" stroke="#6a6a6a" stroke-width="1"/>
<line x1="91.60" y1="291.08" x2="95.60" y2="291.08" stroke="#6a6a6a" stroke-width="1"/>
<line x1="91.60" y1="296.02" x2="95.60" y2="296.02" stroke="#6a6a6a" stroke-width="1"/>
<line x1="91.60" y1="300.96" x2="95.60" y2="300.96" stroke="#6a6a6a" stroke-width="1"/>
<line x1="91.60" y1="305.89" x2="95.60" y2="305.89" stroke="#6a6a6a" stroke-width="1"/>
<line x1="90.10" y1="310.82" x2="95.60" y2="310.82" stroke="#6a6a6a" stroke-width="1"/>
<line x1="91.60" y1="315.76" x2="95.60" y2="315.76" stroke="#6a6a6a" stroke-width="1"/>
<line x1="91.60" y1="320.69" x2="95.60" y2="320.69" stroke="#6a6a6a" stroke-width="1"/>
<line x1="91.60" y1="325.63" x2="95.60" y2="325.63" stroke="#6a6a6a" stroke-width="1"/>
<line x1="91.60" y1="330.56" x2="95.60" y2="330.56" stroke="#6a6a6a" stroke-width="1"/>
<line x1="90.10" y1="335.50" x2="95.60" y2="335.50" stroke="#6a6a6a" stroke-width="1"/>
<line x1="91.60" y1="340.44" x2="95.60" y2="340.44" stroke="#6a6a6a" stroke-width="1"/>
<line x1="91.60" y1="345.37" x2="95.60" y2="345.37" stroke="#6a6a6a" stroke-width="1"/>
<line x1="91.60" y1="350.31" x2="95.60" y2="350.31" stroke="#6a6a6a" stroke-width="1"/>
<line x1="91.60" y1="355.24" x2="95.60" y2="355.24" stroke="#6a6a6a" stroke-width="1"/>
<line x1="90.10" y1="360.18" x2="95.60" y2="360.18" stroke="#6a6a6a" stroke-width="1"/>
<line x1="91.60" y1="365.11" x2="95.60" y2="365.11" stroke="#6a6a6a" stroke-width="1"/>
<line x1="91.60" y1="370.05" x2="95.60" y2="370.05" stroke="#6a6a6a" stroke-width="1"/>
<line x1="91.60" y1="374.98" x2="95.60" y2="374.98" stroke="#6a6a6a" stroke-width="1"/>
<line x1="91.60" y1="379.91" x2="95.60" y2="379.91" stroke="#6a6a6a" stroke-width="1"/>
<line x1="90.10" y1="384.85" x2="95.60" y2="384.85" stroke="#6a6a6a" stroke-width="1"/>
<line x1="91.60" y1="389.78" x2="95.60" y2="389.78" stroke="#6a6a6a" stroke-width="1"/>
<line x1="91.60" y1="394.72" x2="95.60" y2="394.72" stroke="#6a6a6a" stroke-width="1"/>
<line x1="91.60" y1="399.65" x2="95.60" y2="399.65" stroke="#6a6a6a" stroke-width="1"/>
<line x1="91.60" y1="404.59" x2="95.60" y2="404.59" stroke="#6a6a6a" stroke-width="1"/>
<line x1="90.10" y1="409.52" x2="95.60" y2="409.52" stroke="#6a6a6a" stroke-width="1"/>
<line x1="91.60" y1="414.46" x2="95.60" y2="414.46" stroke="#6a6a6a" stroke-width="1"/>
<line x1="91.60" y1="419.39" x2="95.60" y2="419.39" stroke="#6a6a6a" stroke-width="1"/>
<line x1="91.60" y1="424.33" x2="95.60" y2="424.33" stroke="#6a6a6a" stroke-width="1"/>
<line x1="91.60" y1="429.26" x2="95.60" y2="429.26" stroke="#6a6a6a" stroke-width="1"/>
<line x1="90.10" y1="434.20" x2="95.60" y2="434.20" stroke="#6a6a6a" stroke-width="1"/>
<line x1="95.60" y1="429.20" x2="95.60" y2="434.20" stroke="#6a6a6a" stroke-width="1"/>
<line x1="112.23" y1="430.20" x2="112.23" y2="434.20" stroke="#6a6a6a" stroke-width="1"/>
<line x1="128.86" y1="430.20" x2="128.86" y2="434.20" stroke="#6a6a6a" stroke-width="1"/>
<line x1="145.50" y1="430.20" x2="145.50" y2="434.20" stroke="#6a6a6a" stroke-width="1"/>
<line x1="162.13" y1="430.20" x2="162.13" y2="434.20" stroke="#6a6a6a" stroke-width="1"/>
<line x1="178.76" y1="429.20" x2="178.76" y2="434.20" stroke="#6a6a6a" stroke-width="1"/>
<line x1="195.39" y1="430.20" x2="195.39" y2="434.20" stroke="#6a6a6a" stroke-width="1"/>
<line x1="212.02" y1="430.20" x2="212.02" y2="434.20" stroke="#6a6a6a" stroke-width="1"/>
<line x1="228.66" y1="430.20" x2="228.66" y2="434.20" stroke="#6a6a6a" stroke-width="1"/>
<line x1="245.29" y1="430.20" x2="245.29" y2="434.20" stroke="#6a6a6a" stroke-width="1"/>
<line x1="261.92" y1="429.20" x2="261.92" y2="434.20" stroke="#6a6a6a" stroke-width="1"/>
<line x1="278.55" y1="430.20" x2="278.55" y2="434.20" stroke="#6a6a6a" stroke-width="1"/>
<line x1="295.18" y1="430.20" x2="295.18" y2="434.20" stroke="#6a6a6a" stroke-width="1"/>
<line x1="311.82" y1="430.20" x2="311.82" y2="434.20" stroke="#6a6a6a" stroke-width="1"/>
<line x1="328.45" y1="430.20" x2="328.45" y2="434.20" stroke="#6a6a6a" stroke-width="1"/>
<line x1="345.08" y1="429.20" x2="345.08" y2="434.20" stroke="#6a6a6a" stroke-width="1"/>
<line x1="361.71" y1="430.20" x2="361.71" y2="434.20" stroke="#6a6a6a" stroke-width="1"/>
<line x1="378.34" y1="430.20" x2="378.34" y2="434.20" stroke="#6a6a6a" stroke-width="1"/>
<line x1="394.98" y1="430.20" x2="394.98" y2="434.20" stroke="#6a6a6a" stroke-width="1"/>
<line x1="411.61" y1="430.20" x2="411.61" y2="434.20" stroke="#6a6a6a" stroke-width="1"/>
<line x1="428.24" y1="429.20" x2="428.24" y2="434.20" stroke="#6a6a6a" stroke-width="1"/>
<line x1="444.87" y1="430.20" x2="444.87" y2="434.20" stroke="#6a6a6a" stroke-width="1"/>
<line x1="461.50" y1="430.20" x2="461.50" y2="434.20" stroke="#6a6a6a" stroke-width="1"/>
<line x1="478.14" y1="430.20" x2="478.14" y2="434.20" stroke="#6a6a6a" stroke-width="1"/>
<line x1="494.77" y1="430.20" x2="494.77" y2="434.20" stroke="#6a6a6a" stroke-width="1"/>
<line x1="511.40" y1="429.20" x2="511.40" y2="434.20" stroke="#6a6a6a" stroke-width="1"/>
<text x="80.00" y="243.50" font-size="18" text-anchor="end" fill="#000" font-family="Liberation Serif, serif" >0.8</text>
<text x="80.00" y="268.18" font-size="18" text-anchor="end" fill="#000" font-family="Liberation Serif, serif" >0.6</text>
<text x="80.00" y="292.85" font-size="18" text-anchor="end" fill="#000" font-family="Liberation Serif, serif" >0.4</text>
<text x="80.00" y="317.53" font-size="18" text-anchor="end" fill="#000" font-family="Liberation Serif, serif" >0.2</text>
<text x="80.00" y="342.20" font-size="18" text-anchor="end" fill="#000" font-family="Liberation Serif, serif" >0.0</text>
<text x="80.00" y="366.88" font-size="18" text-anchor="end" fill="#000" font-family="Liberation Serif, serif" >-0.2</text>
<text x="80.00" y="391.55" font-size="18" text-anchor="end" fill="#000" font-family="Liberation Serif, serif" >-0.4</text>
<text x="80.00" y="416.22" font-size="18" text-anchor="end" fill="#000" font-family="Liberation Serif, serif" >-0.6</text>
<text x="80.00" y="440.90" font-size="18" text-anchor="end" fill="#000" font-family="Liberation Serif, serif" >-0.8</text>
<text x="95.60" y="462.30" font-size="18.2" text-anchor="middle" fill="#000" font-family="Liberation Serif, serif" >0</text>
<text x="178.76" y="462.30" font-size="18.2" text-anchor="middle" fill="#000" font-family="Liberation Serif, serif" >2</text>
<text x="261.92" y="462.30" font-size="18.2" text-anchor="middle" fill="#000" font-family="Liberation Serif, serif" >4</text>
<text x="345.08" y="462.30" font-size="18.2" text-anchor="middle" fill="#000" font-family="Liberation Serif, serif" >6</text>
<text x="428.24" y="462.30" font-size="18.2" text-anchor="middle" fill="#000" font-family="Liberation Serif, serif" >8</text>
<text x="512.20" y="462.30" font-size="18.2" text-anchor="middle" fill="#000" font-family="Liberation Serif, serif" >10</text>
<text x="305.50" y="486.80" font-size="18.4" text-anchor="middle" fill="#000" font-family="Liberation Serif, serif" >Time [s]</text>
<text x="-0.40" y="13.30" font-size="18.4" text-anchor="start" fill="#000" font-family="Liberation Serif, serif" >(a)</text>
<text x="-0.40" y="238.50" font-size="18.4" text-anchor="start" fill="#000" font-family="Liberation Serif, serif" >(b)</text>
<text transform="translate(41,107) rotate(-90)" font-size="18.4" text-anchor="middle" fill="#000" font-family="Liberation Serif, serif">Output voltage [V]</text>
<text transform="translate(41,336) rotate(-90)" font-size="18.4" text-anchor="middle" fill="#000" font-family="Liberation Serif, serif">Output voltage [V]</text>
<rect x="100" y="159" width="171.8" height="43" fill="#fff" stroke="#8c8c8c" stroke-width="1"/>
<line x1="108.00" y1="169.80" x2="138.00" y2="169.80" stroke="#4670b4" stroke-width="1.4"/>
<line x1="108.00" y1="191.60" x2="138.00" y2="191.60" stroke="#9c9c9c" stroke-width="1.1"/>
<text x="140.30" y="176.00" font-size="18.4" text-anchor="start" fill="#000" font-family="Liberation Serif, serif" >Sine generator</text>
<text x="140.30" y="197.00" font-size="18.4" text-anchor="start" fill="#000" font-family="Liberation Serif, serif" >Charge amplifier</text>
<rect x="334.5" y="220.3" width="174" height="43" fill="#fff" stroke="#8c8c8c" stroke-width="1"/>
<line x1="344.00" y1="231.10" x2="373.80" y2="231.10" stroke="#4670b4" stroke-width="1.4"/>
<line x1="344.00" y1="252.90" x2="373.80" y2="252.90" stroke="#9c9c9c" stroke-width="1.1"/>
<text x="375.80" y="237.30" font-size="18.4" text-anchor="start" fill="#000" font-family="Liberation Serif, serif" >Sine generator</text>
<text x="375.80" y="258.30" font-size="18.4" text-anchor="start" fill="#000" font-family="Liberation Serif, serif" >Charge amplifier</text>
</svg>
</body></html>
